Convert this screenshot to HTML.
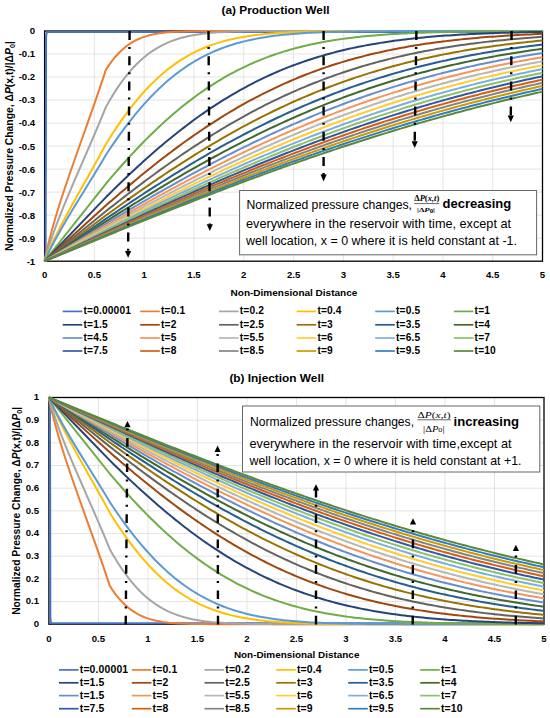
<!DOCTYPE html>
<html><head><meta charset="utf-8"><style>
html,body{margin:0;padding:0;background:#fff;}
svg{display:block;}
text{font-family:"Liberation Sans",sans-serif;fill:#000;}
</style></head><body>
<svg width="550" height="718" viewBox="0 0 550 718">
<rect width="550" height="718" fill="#fff"/>
<text x="221.50" y="13.60" font-size="11.20" font-weight="bold" text-anchor="start" textLength="108.0" lengthAdjust="spacingAndGlyphs">(a) Production Well</text>
<path d="M94.39 31.00V261.20M144.18 31.00V261.20M193.97 31.00V261.20M243.76 31.00V261.20M293.55 31.00V261.20M343.34 31.00V261.20M393.13 31.00V261.20M442.92 31.00V261.20M492.71 31.00V261.20M44.60 54.02H542.50M44.60 77.04H542.50M44.60 100.06H542.50M44.60 123.08H542.50M44.60 146.10H542.50M44.60 169.12H542.50M44.60 192.14H542.50M44.60 215.16H542.50M44.60 238.18H542.50" stroke="#DDDDDD" stroke-width="0.8" fill="none"/>
<rect x="44.60" y="31.00" width="497.90" height="230.20" fill="none" stroke="#000" stroke-width="1.3"/>
<path d="M44.60 261.20 L45.60 255.44 L45.89 146.10 L46.04 37.91 L46.39 33.76 L47.09 32.27 L48.18 31.92 L542.50 31.92" stroke="#4472C4" stroke-width="2.0" fill="none" stroke-linejoin="round"/>
<path d="M44.60 261.20 C55.05 205.50 85.43 133.68 105.84 69.92 L108.96 65.16 L112.08 60.86 L115.20 56.99 L118.32 53.53 L121.44 50.44 L124.56 47.71 L127.67 45.30 L130.79 43.18 L133.91 41.34 L137.03 39.73 L140.15 38.34 L143.27 37.15 L146.39 36.13 L149.51 35.26 L152.63 34.52 L155.75 33.89 L158.86 33.37 L161.98 32.93 L165.10 32.57 L168.22 32.27 L171.34 32.02 L174.46 31.82 L177.58 31.65 L180.70 31.52 L183.82 31.41 L186.94 31.32 L190.05 31.25 L193.17 31.20 L196.29 31.15 L199.41 31.12 L202.53 31.09 L205.65 31.07 L208.77 31.05 L211.89 31.04 L215.01 31.03 L218.13 31.02 L221.24 31.02 L224.36 31.01 L227.48 31.01 L230.60 31.01 L233.72 31.00 L236.84 31.00 L239.96 31.00 L243.08 31.00 L246.20 31.00 L249.32 31.00 L252.43 31.00 L255.55 31.00 L258.67 31.00 L261.79 31.00 L264.91 31.00 L268.03 31.00 L271.15 31.00 L274.27 31.00 L277.39 31.00 L280.51 31.00 L283.62 31.00 L286.74 31.00 L289.86 31.00 L292.98 31.00 L296.10 31.00 L299.22 31.00 L302.34 31.00 L305.46 31.00 L308.58 31.00 L311.69 31.00 L314.81 31.00 L317.93 31.00 L321.05 31.00 L324.17 31.00 L327.29 31.00 L330.41 31.00 L333.53 31.00 L336.65 31.00 L339.77 31.00 L342.88 31.00 L346.00 31.00 L349.12 31.00 L352.24 31.00 L355.36 31.00 L358.48 31.00 L361.60 31.00 L364.72 31.00 L367.84 31.00 L370.96 31.00 L374.07 31.00 L377.19 31.00 L380.31 31.00 L383.43 31.00 L386.55 31.00 L389.67 31.00 L392.79 31.00 L395.91 31.00 L399.03 31.00 L402.15 31.00 L405.26 31.00 L408.38 31.00 L411.50 31.00 L414.62 31.00 L417.74 31.00 L420.86 31.00 L423.98 31.00 L427.10 31.00 L430.22 31.00 L433.34 31.00 L436.45 31.00 L439.57 31.00 L442.69 31.00 L445.81 31.00 L448.93 31.00 L452.05 31.00 L455.17 31.00 L458.29 31.00 L461.41 31.00 L464.53 31.00 L467.64 31.00 L470.76 31.00 L473.88 31.00 L477.00 31.00 L480.12 31.00 L483.24 31.00 L486.36 31.00 L489.48 31.00 L492.60 31.00 L495.72 31.00 L498.83 31.00 L501.95 31.00 L505.07 31.00 L508.19 31.00 L511.31 31.00 L514.43 31.00 L517.55 31.00 L520.67 31.00 L523.79 31.00 L526.91 31.00 L530.02 31.00 L533.14 31.00 L536.26 31.00 L539.38 31.00 L542.50 31.00" stroke="#ED7D31" stroke-width="2.0" fill="none" stroke-linejoin="round"/>
<path d="M44.60 261.20 C56.36 215.93 85.43 158.51 105.84 107.16 L108.96 101.63 L112.08 96.37 L115.20 91.38 L118.32 86.66 L121.44 82.21 L124.56 78.02 L127.67 74.08 L130.79 70.39 L133.91 66.95 L137.03 63.74 L140.15 60.75 L143.27 57.98 L146.39 55.41 L149.51 53.05 L152.63 50.87 L155.75 48.86 L158.86 47.03 L161.98 45.35 L165.10 43.82 L168.22 42.43 L171.34 41.17 L174.46 40.03 L177.58 39.00 L180.70 38.07 L183.82 37.23 L186.94 36.48 L190.05 35.81 L193.17 35.22 L196.29 34.69 L199.41 34.22 L202.53 33.80 L205.65 33.43 L208.77 33.10 L211.89 32.82 L215.01 32.57 L218.13 32.35 L221.24 32.16 L224.36 31.99 L227.48 31.85 L230.60 31.72 L233.72 31.62 L236.84 31.52 L239.96 31.44 L243.08 31.37 L246.20 31.32 L249.32 31.27 L252.43 31.22 L255.55 31.19 L258.67 31.16 L261.79 31.13 L264.91 31.11 L268.03 31.09 L271.15 31.07 L274.27 31.06 L277.39 31.05 L280.51 31.04 L283.62 31.03 L286.74 31.03 L289.86 31.02 L292.98 31.02 L296.10 31.01 L299.22 31.01 L302.34 31.01 L305.46 31.01 L308.58 31.01 L311.69 31.01 L314.81 31.00 L317.93 31.00 L321.05 31.00 L324.17 31.00 L327.29 31.00 L330.41 31.00 L333.53 31.00 L336.65 31.00 L339.77 31.00 L342.88 31.00 L346.00 31.00 L349.12 31.00 L352.24 31.00 L355.36 31.00 L358.48 31.00 L361.60 31.00 L364.72 31.00 L367.84 31.00 L370.96 31.00 L374.07 31.00 L377.19 31.00 L380.31 31.00 L383.43 31.00 L386.55 31.00 L389.67 31.00 L392.79 31.00 L395.91 31.00 L399.03 31.00 L402.15 31.00 L405.26 31.00 L408.38 31.00 L411.50 31.00 L414.62 31.00 L417.74 31.00 L420.86 31.00 L423.98 31.00 L427.10 31.00 L430.22 31.00 L433.34 31.00 L436.45 31.00 L439.57 31.00 L442.69 31.00 L445.81 31.00 L448.93 31.00 L452.05 31.00 L455.17 31.00 L458.29 31.00 L461.41 31.00 L464.53 31.00 L467.64 31.00 L470.76 31.00 L473.88 31.00 L477.00 31.00 L480.12 31.00 L483.24 31.00 L486.36 31.00 L489.48 31.00 L492.60 31.00 L495.72 31.00 L498.83 31.00 L501.95 31.00 L505.07 31.00 L508.19 31.00 L511.31 31.00 L514.43 31.00 L517.55 31.00 L520.67 31.00 L523.79 31.00 L526.91 31.00 L530.02 31.00 L533.14 31.00 L536.26 31.00 L539.38 31.00 L542.50 31.00" stroke="#A5A5A5" stroke-width="2.0" fill="none" stroke-linejoin="round"/>
<path d="M44.60 261.20 C57.65 226.29 85.43 183.19 105.84 144.19 L108.96 139.18 L112.08 134.28 L115.20 129.52 L118.32 124.89 L121.44 120.39 L124.56 116.02 L127.67 111.79 L130.79 107.70 L133.91 103.74 L137.03 99.92 L140.15 96.23 L143.27 92.68 L146.39 89.27 L149.51 85.98 L152.63 82.84 L155.75 79.82 L158.86 76.93 L161.98 74.17 L165.10 71.53 L168.22 69.02 L171.34 66.62 L174.46 64.34 L177.58 62.18 L180.70 60.12 L183.82 58.17 L186.94 56.33 L190.05 54.58 L193.17 52.94 L196.29 51.38 L199.41 49.92 L202.53 48.54 L205.65 47.25 L208.77 46.03 L211.89 44.89 L215.01 43.83 L218.13 42.83 L221.24 41.90 L224.36 41.03 L227.48 40.22 L230.60 39.46 L233.72 38.76 L236.84 38.11 L239.96 37.51 L243.08 36.95 L246.20 36.43 L249.32 35.96 L252.43 35.52 L255.55 35.11 L258.67 34.74 L261.79 34.39 L264.91 34.08 L268.03 33.79 L271.15 33.53 L274.27 33.28 L277.39 33.06 L280.51 32.86 L283.62 32.68 L286.74 32.51 L289.86 32.36 L292.98 32.22 L296.10 32.09 L299.22 31.98 L302.34 31.88 L305.46 31.78 L308.58 31.70 L311.69 31.62 L314.81 31.56 L317.93 31.49 L321.05 31.44 L324.17 31.39 L327.29 31.35 L330.41 31.31 L333.53 31.27 L336.65 31.24 L339.77 31.21 L342.88 31.19 L346.00 31.16 L349.12 31.14 L352.24 31.13 L355.36 31.11 L358.48 31.10 L361.60 31.09 L364.72 31.07 L367.84 31.07 L370.96 31.06 L374.07 31.05 L377.19 31.04 L380.31 31.04 L383.43 31.03 L386.55 31.03 L389.67 31.02 L392.79 31.02 L395.91 31.02 L399.03 31.02 L402.15 31.01 L405.26 31.01 L408.38 31.01 L411.50 31.01 L414.62 31.01 L417.74 31.01 L420.86 31.01 L423.98 31.00 L427.10 31.00 L430.22 31.00 L433.34 31.00 L436.45 31.00 L439.57 31.00 L442.69 31.00 L445.81 31.00 L448.93 31.00 L452.05 31.00 L455.17 31.00 L458.29 31.00 L461.41 31.00 L464.53 31.00 L467.64 31.00 L470.76 31.00 L473.88 31.00 L477.00 31.00 L480.12 31.00 L483.24 31.00 L486.36 31.00 L489.48 31.00 L492.60 31.00 L495.72 31.00 L498.83 31.00 L501.95 31.00 L505.07 31.00 L508.19 31.00 L511.31 31.00 L514.43 31.00 L517.55 31.00 L520.67 31.00 L523.79 31.00 L526.91 31.00 L530.02 31.00 L533.14 31.00 L536.26 31.00 L539.38 31.00 L542.50 31.00" stroke="#FFC000" stroke-width="2.0" fill="none" stroke-linejoin="round"/>
<path d="M44.60 261.20 C58.03 229.31 85.43 190.38 105.84 154.98 L108.96 150.26 L112.08 145.64 L115.20 141.12 L118.32 136.69 L121.44 132.37 L124.56 128.15 L127.67 124.03 L130.79 120.02 L133.91 116.12 L137.03 112.33 L140.15 108.64 L143.27 105.07 L146.39 101.60 L149.51 98.24 L152.63 95.00 L155.75 91.86 L158.86 88.82 L161.98 85.90 L165.10 83.08 L168.22 80.37 L171.34 77.76 L174.46 75.25 L177.58 72.84 L180.70 70.53 L183.82 68.32 L186.94 66.20 L190.05 64.17 L193.17 62.24 L196.29 60.39 L199.41 58.63 L202.53 56.95 L205.65 55.36 L208.77 53.84 L211.89 52.40 L215.01 51.04 L218.13 49.74 L221.24 48.51 L224.36 47.35 L227.48 46.26 L230.60 45.22 L233.72 44.25 L236.84 43.33 L239.96 42.46 L243.08 41.65 L246.20 40.88 L249.32 40.16 L252.43 39.49 L255.55 38.86 L258.67 38.27 L261.79 37.72 L264.91 37.20 L268.03 36.72 L271.15 36.27 L274.27 35.86 L277.39 35.47 L280.51 35.11 L283.62 34.77 L286.74 34.46 L289.86 34.17 L292.98 33.91 L296.10 33.66 L299.22 33.43 L302.34 33.22 L305.46 33.03 L308.58 32.85 L311.69 32.68 L314.81 32.53 L317.93 32.39 L321.05 32.27 L324.17 32.15 L327.29 32.04 L330.41 31.94 L333.53 31.86 L336.65 31.77 L339.77 31.70 L342.88 31.63 L346.00 31.57 L349.12 31.51 L352.24 31.46 L355.36 31.42 L358.48 31.37 L361.60 31.34 L364.72 31.30 L367.84 31.27 L370.96 31.24 L374.07 31.22 L377.19 31.19 L380.31 31.17 L383.43 31.15 L386.55 31.14 L389.67 31.12 L392.79 31.11 L395.91 31.10 L399.03 31.09 L402.15 31.08 L405.26 31.07 L408.38 31.06 L411.50 31.05 L414.62 31.05 L417.74 31.04 L420.86 31.04 L423.98 31.03 L427.10 31.03 L430.22 31.02 L433.34 31.02 L436.45 31.02 L439.57 31.02 L442.69 31.01 L445.81 31.01 L448.93 31.01 L452.05 31.01 L455.17 31.01 L458.29 31.01 L461.41 31.01 L464.53 31.01 L467.64 31.00 L470.76 31.00 L473.88 31.00 L477.00 31.00 L480.12 31.00 L483.24 31.00 L486.36 31.00 L489.48 31.00 L492.60 31.00 L495.72 31.00 L498.83 31.00 L501.95 31.00 L505.07 31.00 L508.19 31.00 L511.31 31.00 L514.43 31.00 L517.55 31.00 L520.67 31.00 L523.79 31.00 L526.91 31.00 L530.02 31.00 L533.14 31.00 L536.26 31.00 L539.38 31.00 L542.50 31.00" stroke="#5B9BD5" stroke-width="2.0" fill="none" stroke-linejoin="round"/>
<path d="M44.60 261.20 C61.75 239.52 85.43 209.58 105.84 183.77 L108.96 180.09 L112.08 176.45 L115.20 172.84 L118.32 169.27 L121.44 165.74 L124.56 162.26 L127.67 158.82 L130.79 155.42 L133.91 152.07 L137.03 148.77 L140.15 145.51 L143.27 142.31 L146.39 139.15 L149.51 136.04 L152.63 132.99 L155.75 129.98 L158.86 127.03 L161.98 124.13 L165.10 121.28 L168.22 118.49 L171.34 115.74 L174.46 113.06 L177.58 110.43 L180.70 107.85 L183.82 105.33 L186.94 102.86 L190.05 100.44 L193.17 98.09 L196.29 95.78 L199.41 93.53 L202.53 91.33 L205.65 89.19 L208.77 87.10 L211.89 85.07 L215.01 83.09 L218.13 81.16 L221.24 79.28 L224.36 77.45 L227.48 75.68 L230.60 73.95 L233.72 72.27 L236.84 70.65 L239.96 69.07 L243.08 67.54 L246.20 66.06 L249.32 64.62 L252.43 63.23 L255.55 61.88 L258.67 60.58 L261.79 59.32 L264.91 58.10 L268.03 56.92 L271.15 55.79 L274.27 54.69 L277.39 53.64 L280.51 52.62 L283.62 51.64 L286.74 50.69 L289.86 49.78 L292.98 48.90 L296.10 48.06 L299.22 47.25 L302.34 46.48 L305.46 45.73 L308.58 45.01 L311.69 44.32 L314.81 43.66 L317.93 43.03 L321.05 42.43 L324.17 41.85 L327.29 41.29 L330.41 40.76 L333.53 40.25 L336.65 39.77 L339.77 39.31 L342.88 38.87 L346.00 38.44 L349.12 38.04 L352.24 37.66 L355.36 37.29 L358.48 36.95 L361.60 36.61 L364.72 36.30 L367.84 36.00 L370.96 35.71 L374.07 35.44 L377.19 35.19 L380.31 34.94 L383.43 34.71 L386.55 34.49 L389.67 34.29 L392.79 34.09 L395.91 33.90 L399.03 33.73 L402.15 33.56 L405.26 33.40 L408.38 33.25 L411.50 33.11 L414.62 32.98 L417.74 32.85 L420.86 32.74 L423.98 32.63 L427.10 32.52 L430.22 32.42 L433.34 32.33 L436.45 32.24 L439.57 32.16 L442.69 32.08 L445.81 32.01 L448.93 31.94 L452.05 31.88 L455.17 31.82 L458.29 31.76 L461.41 31.71 L464.53 31.66 L467.64 31.61 L470.76 31.57 L473.88 31.53 L477.00 31.49 L480.12 31.46 L483.24 31.42 L486.36 31.39 L489.48 31.36 L492.60 31.34 L495.72 31.31 L498.83 31.29 L501.95 31.27 L505.07 31.25 L508.19 31.23 L511.31 31.21 L514.43 31.20 L517.55 31.18 L520.67 31.17 L523.79 31.15 L526.91 31.14 L530.02 31.13 L533.14 31.12 L536.26 31.11 L539.38 31.10 L542.50 31.09" stroke="#70AD47" stroke-width="2.0" fill="none" stroke-linejoin="round"/>
<path d="M44.60 261.20 C61.75 243.32 85.43 218.62 105.84 197.33 L108.96 194.22 L112.08 191.13 L115.20 188.07 L118.32 185.02 L121.44 182.00 L124.56 179.01 L127.67 176.04 L130.79 173.09 L133.91 170.17 L137.03 167.28 L140.15 164.42 L143.27 161.59 L146.39 158.78 L149.51 156.01 L152.63 153.26 L155.75 150.55 L158.86 147.86 L161.98 145.21 L165.10 142.59 L168.22 140.01 L171.34 137.46 L174.46 134.94 L177.58 132.45 L180.70 130.00 L183.82 127.59 L186.94 125.21 L190.05 122.86 L193.17 120.55 L196.29 118.28 L199.41 116.04 L202.53 113.84 L205.65 111.67 L208.77 109.54 L211.89 107.45 L215.01 105.39 L218.13 103.37 L221.24 101.39 L224.36 99.44 L227.48 97.53 L230.60 95.65 L233.72 93.81 L236.84 92.01 L239.96 90.24 L243.08 88.51 L246.20 86.82 L249.32 85.16 L252.43 83.53 L255.55 81.94 L258.67 80.39 L261.79 78.87 L264.91 77.38 L268.03 75.93 L271.15 74.51 L274.27 73.13 L277.39 71.77 L280.51 70.45 L283.62 69.17 L286.74 67.91 L289.86 66.69 L292.98 65.49 L296.10 64.33 L299.22 63.20 L302.34 62.10 L305.46 61.02 L308.58 59.98 L311.69 58.97 L314.81 57.98 L317.93 57.02 L321.05 56.09 L324.17 55.18 L327.29 54.30 L330.41 53.45 L333.53 52.62 L336.65 51.81 L339.77 51.03 L342.88 50.28 L346.00 49.54 L349.12 48.83 L352.24 48.14 L355.36 47.48 L358.48 46.83 L361.60 46.21 L364.72 45.61 L367.84 45.02 L370.96 44.46 L374.07 43.91 L377.19 43.39 L380.31 42.88 L383.43 42.39 L386.55 41.91 L389.67 41.46 L392.79 41.02 L395.91 40.59 L399.03 40.18 L402.15 39.79 L405.26 39.41 L408.38 39.04 L411.50 38.69 L414.62 38.35 L417.74 38.02 L420.86 37.71 L423.98 37.41 L427.10 37.12 L430.22 36.84 L433.34 36.57 L436.45 36.32 L439.57 36.07 L442.69 35.83 L445.81 35.61 L448.93 35.39 L452.05 35.18 L455.17 34.98 L458.29 34.79 L461.41 34.61 L464.53 34.43 L467.64 34.26 L470.76 34.10 L473.88 33.95 L477.00 33.80 L480.12 33.66 L483.24 33.53 L486.36 33.40 L489.48 33.28 L492.60 33.16 L495.72 33.05 L498.83 32.94 L501.95 32.84 L505.07 32.75 L508.19 32.66 L511.31 32.57 L514.43 32.48 L517.55 32.41 L520.67 32.33 L523.79 32.26 L526.91 32.19 L530.02 32.12 L533.14 32.06 L536.26 32.00 L539.38 31.95 L542.50 31.90" stroke="#264478" stroke-width="2.0" fill="none" stroke-linejoin="round"/>
<path d="M44.60 261.20 C61.75 245.63 85.43 224.13 105.84 205.60 L108.96 202.86 L112.08 200.14 L115.20 197.43 L118.32 194.74 L121.44 192.06 L124.56 189.40 L127.67 186.75 L130.79 184.12 L133.91 181.51 L137.03 178.92 L140.15 176.35 L143.27 173.79 L146.39 171.26 L149.51 168.74 L152.63 166.25 L155.75 163.78 L158.86 161.33 L161.98 158.90 L165.10 156.49 L168.22 154.11 L171.34 151.75 L174.46 149.41 L177.58 147.10 L180.70 144.81 L183.82 142.54 L186.94 140.30 L190.05 138.09 L193.17 135.89 L196.29 133.73 L199.41 131.59 L202.53 129.48 L205.65 127.39 L208.77 125.33 L211.89 123.29 L215.01 121.29 L218.13 119.30 L221.24 117.35 L224.36 115.42 L227.48 113.52 L230.60 111.65 L233.72 109.80 L236.84 107.98 L239.96 106.19 L243.08 104.43 L246.20 102.69 L249.32 100.98 L252.43 99.30 L255.55 97.64 L258.67 96.02 L261.79 94.41 L264.91 92.84 L268.03 91.29 L271.15 89.78 L274.27 88.28 L277.39 86.82 L280.51 85.38 L283.62 83.96 L286.74 82.58 L289.86 81.22 L292.98 79.88 L296.10 78.57 L299.22 77.29 L302.34 76.03 L305.46 74.80 L308.58 73.59 L311.69 72.41 L314.81 71.25 L317.93 70.12 L321.05 69.01 L324.17 67.92 L327.29 66.86 L330.41 65.82 L333.53 64.81 L336.65 63.81 L339.77 62.84 L342.88 61.89 L346.00 60.97 L349.12 60.06 L352.24 59.18 L355.36 58.32 L358.48 57.48 L361.60 56.66 L364.72 55.86 L367.84 55.08 L370.96 54.32 L374.07 53.57 L377.19 52.85 L380.31 52.15 L383.43 51.46 L386.55 50.79 L389.67 50.14 L392.79 49.51 L395.91 48.90 L399.03 48.30 L402.15 47.72 L405.26 47.15 L408.38 46.60 L411.50 46.06 L414.62 45.54 L417.74 45.04 L420.86 44.55 L423.98 44.07 L427.10 43.61 L430.22 43.16 L433.34 42.73 L436.45 42.31 L439.57 41.90 L442.69 41.50 L445.81 41.12 L448.93 40.75 L452.05 40.39 L455.17 40.04 L458.29 39.70 L461.41 39.37 L464.53 39.05 L467.64 38.75 L470.76 38.45 L473.88 38.17 L477.00 37.89 L480.12 37.62 L483.24 37.36 L486.36 37.11 L489.48 36.87 L492.60 36.64 L495.72 36.41 L498.83 36.19 L501.95 35.98 L505.07 35.78 L508.19 35.59 L511.31 35.40 L514.43 35.22 L517.55 35.04 L520.67 34.87 L523.79 34.71 L526.91 34.56 L530.02 34.41 L533.14 34.26 L536.26 34.12 L539.38 33.99 L542.50 33.86" stroke="#9E480E" stroke-width="2.0" fill="none" stroke-linejoin="round"/>
<path d="M44.60 261.20 C61.75 247.23 85.43 227.94 105.84 211.31 L108.96 208.84 L112.08 206.38 L115.20 203.93 L118.32 201.48 L121.44 199.06 L124.56 196.64 L127.67 194.23 L130.79 191.84 L133.91 189.46 L137.03 187.09 L140.15 184.74 L143.27 182.40 L146.39 180.07 L149.51 177.76 L152.63 175.47 L155.75 173.19 L158.86 170.92 L161.98 168.68 L165.10 166.45 L168.22 164.23 L171.34 162.04 L174.46 159.86 L177.58 157.70 L180.70 155.55 L183.82 153.43 L186.94 151.32 L190.05 149.23 L193.17 147.16 L196.29 145.11 L199.41 143.08 L202.53 141.07 L205.65 139.08 L208.77 137.11 L211.89 135.16 L215.01 133.23 L218.13 131.32 L221.24 129.43 L224.36 127.57 L227.48 125.72 L230.60 123.89 L233.72 122.09 L236.84 120.31 L239.96 118.54 L243.08 116.80 L246.20 115.09 L249.32 113.39 L252.43 111.71 L255.55 110.06 L258.67 108.43 L261.79 106.82 L264.91 105.23 L268.03 103.66 L271.15 102.12 L274.27 100.60 L277.39 99.10 L280.51 97.62 L283.62 96.16 L286.74 94.73 L289.86 93.31 L292.98 91.92 L296.10 90.55 L299.22 89.20 L302.34 87.88 L305.46 86.57 L308.58 85.28 L311.69 84.02 L314.81 82.78 L317.93 81.56 L321.05 80.36 L324.17 79.18 L327.29 78.02 L330.41 76.88 L333.53 75.76 L336.65 74.66 L339.77 73.58 L342.88 72.52 L346.00 71.48 L349.12 70.46 L352.24 69.46 L355.36 68.48 L358.48 67.52 L361.60 66.58 L364.72 65.65 L367.84 64.75 L370.96 63.86 L374.07 62.99 L377.19 62.14 L380.31 61.30 L383.43 60.49 L386.55 59.69 L389.67 58.90 L392.79 58.14 L395.91 57.39 L399.03 56.65 L402.15 55.94 L405.26 55.24 L408.38 54.55 L411.50 53.88 L414.62 53.23 L417.74 52.59 L420.86 51.96 L423.98 51.35 L427.10 50.76 L430.22 50.18 L433.34 49.61 L436.45 49.06 L439.57 48.52 L442.69 47.99 L445.81 47.48 L448.93 46.97 L452.05 46.49 L455.17 46.01 L458.29 45.55 L461.41 45.09 L464.53 44.65 L467.64 44.22 L470.76 43.81 L473.88 43.40 L477.00 43.00 L480.12 42.62 L483.24 42.24 L486.36 41.88 L489.48 41.53 L492.60 41.18 L495.72 40.85 L498.83 40.52 L501.95 40.20 L505.07 39.90 L508.19 39.60 L511.31 39.31 L514.43 39.02 L517.55 38.75 L520.67 38.49 L523.79 38.23 L526.91 37.98 L530.02 37.73 L533.14 37.50 L536.26 37.27 L539.38 37.05 L542.50 36.83" stroke="#636363" stroke-width="2.0" fill="none" stroke-linejoin="round"/>
<path d="M44.60 261.20 C61.75 248.42 85.43 230.78 105.84 215.56 L108.96 213.29 L112.08 211.03 L115.20 208.77 L118.32 206.52 L121.44 204.28 L124.56 202.05 L127.67 199.83 L130.79 197.62 L133.91 195.42 L137.03 193.23 L140.15 191.05 L143.27 188.88 L146.39 186.72 L149.51 184.57 L152.63 182.44 L155.75 180.32 L158.86 178.20 L161.98 176.11 L165.10 174.02 L168.22 171.95 L171.34 169.89 L174.46 167.84 L177.58 165.81 L180.70 163.80 L183.82 161.79 L186.94 159.80 L190.05 157.83 L193.17 155.87 L196.29 153.93 L199.41 152.00 L202.53 150.09 L205.65 148.19 L208.77 146.31 L211.89 144.45 L215.01 142.60 L218.13 140.77 L221.24 138.95 L224.36 137.15 L227.48 135.37 L230.60 133.61 L233.72 131.86 L236.84 130.13 L239.96 128.42 L243.08 126.72 L246.20 125.04 L249.32 123.38 L252.43 121.74 L255.55 120.12 L258.67 118.51 L261.79 116.92 L264.91 115.35 L268.03 113.80 L271.15 112.26 L274.27 110.74 L277.39 109.25 L280.51 107.77 L283.62 106.30 L286.74 104.86 L289.86 103.43 L292.98 102.03 L296.10 100.64 L299.22 99.27 L302.34 97.91 L305.46 96.58 L308.58 95.26 L311.69 93.96 L314.81 92.68 L317.93 91.42 L321.05 90.17 L324.17 88.95 L327.29 87.74 L330.41 86.55 L333.53 85.38 L336.65 84.22 L339.77 83.08 L342.88 81.96 L346.00 80.86 L349.12 79.77 L352.24 78.70 L355.36 77.65 L358.48 76.62 L361.60 75.60 L364.72 74.60 L367.84 73.61 L370.96 72.65 L374.07 71.69 L377.19 70.76 L380.31 69.84 L383.43 68.94 L386.55 68.05 L389.67 67.18 L392.79 66.32 L395.91 65.48 L399.03 64.66 L402.15 63.85 L405.26 63.05 L408.38 62.27 L411.50 61.51 L414.62 60.76 L417.74 60.02 L420.86 59.30 L423.98 58.59 L427.10 57.90 L430.22 57.22 L433.34 56.55 L436.45 55.90 L439.57 55.26 L442.69 54.63 L445.81 54.02 L448.93 53.42 L452.05 52.83 L455.17 52.26 L458.29 51.69 L461.41 51.14 L464.53 50.60 L467.64 50.07 L470.76 49.56 L473.88 49.05 L477.00 48.56 L480.12 48.08 L483.24 47.60 L486.36 47.14 L489.48 46.69 L492.60 46.25 L495.72 45.82 L498.83 45.40 L501.95 44.99 L505.07 44.59 L508.19 44.20 L511.31 43.82 L514.43 43.45 L517.55 43.09 L520.67 42.73 L523.79 42.39 L526.91 42.05 L530.02 41.72 L533.14 41.40 L536.26 41.09 L539.38 40.79 L542.50 40.49" stroke="#997300" stroke-width="2.0" fill="none" stroke-linejoin="round"/>
<path d="M44.60 261.20 C61.75 249.35 85.43 232.99 105.84 218.89 L108.96 216.77 L112.08 214.67 L115.20 212.57 L118.32 210.47 L121.44 208.38 L124.56 206.30 L127.67 204.23 L130.79 202.17 L133.91 200.11 L137.03 198.06 L140.15 196.02 L143.27 193.99 L146.39 191.96 L149.51 189.95 L152.63 187.95 L155.75 185.95 L158.86 183.97 L161.98 182.00 L165.10 180.03 L168.22 178.08 L171.34 176.14 L174.46 174.20 L177.58 172.28 L180.70 170.38 L183.82 168.48 L186.94 166.59 L190.05 164.72 L193.17 162.86 L196.29 161.01 L199.41 159.18 L202.53 157.35 L205.65 155.54 L208.77 153.74 L211.89 151.96 L215.01 150.19 L218.13 148.43 L221.24 146.69 L224.36 144.96 L227.48 143.24 L230.60 141.54 L233.72 139.85 L236.84 138.18 L239.96 136.52 L243.08 134.88 L246.20 133.25 L249.32 131.63 L252.43 130.03 L255.55 128.45 L258.67 126.88 L261.79 125.32 L264.91 123.78 L268.03 122.25 L271.15 120.74 L274.27 119.25 L277.39 117.77 L280.51 116.31 L283.62 114.86 L286.74 113.42 L289.86 112.01 L292.98 110.61 L296.10 109.22 L299.22 107.85 L302.34 106.49 L305.46 105.15 L308.58 103.83 L311.69 102.52 L314.81 101.23 L317.93 99.95 L321.05 98.69 L324.17 97.44 L327.29 96.21 L330.41 95.00 L333.53 93.80 L336.65 92.61 L339.77 91.44 L342.88 90.29 L346.00 89.15 L349.12 88.03 L352.24 86.92 L355.36 85.83 L358.48 84.75 L361.60 83.69 L364.72 82.65 L367.84 81.61 L370.96 80.60 L374.07 79.59 L377.19 78.61 L380.31 77.63 L383.43 76.68 L386.55 75.73 L389.67 74.80 L392.79 73.89 L395.91 72.99 L399.03 72.10 L402.15 71.23 L405.26 70.37 L408.38 69.52 L411.50 68.69 L414.62 67.87 L417.74 67.07 L420.86 66.28 L423.98 65.50 L427.10 64.74 L430.22 63.99 L433.34 63.25 L436.45 62.52 L439.57 61.81 L442.69 61.11 L445.81 60.42 L448.93 59.74 L452.05 59.08 L455.17 58.43 L458.29 57.79 L461.41 57.16 L464.53 56.54 L467.64 55.94 L470.76 55.35 L473.88 54.76 L477.00 54.19 L480.12 53.63 L483.24 53.08 L486.36 52.55 L489.48 52.02 L492.60 51.50 L495.72 50.99 L498.83 50.50 L501.95 50.01 L505.07 49.53 L508.19 49.07 L511.31 48.61 L514.43 48.16 L517.55 47.72 L520.67 47.29 L523.79 46.87 L526.91 46.46 L530.02 46.06 L533.14 45.66 L536.26 45.28 L539.38 44.90 L542.50 44.53" stroke="#255E91" stroke-width="2.0" fill="none" stroke-linejoin="round"/>
<path d="M44.60 261.20 C61.75 250.11 85.43 234.78 105.84 221.58 L108.96 219.59 L112.08 217.61 L115.20 215.64 L118.32 213.67 L121.44 211.71 L124.56 209.75 L127.67 207.80 L130.79 205.86 L133.91 203.92 L137.03 201.99 L140.15 200.06 L143.27 198.15 L146.39 196.24 L149.51 194.34 L152.63 192.44 L155.75 190.56 L158.86 188.68 L161.98 186.81 L165.10 184.95 L168.22 183.10 L171.34 181.26 L174.46 179.42 L177.58 177.60 L180.70 175.78 L183.82 173.98 L186.94 172.18 L190.05 170.40 L193.17 168.62 L196.29 166.86 L199.41 165.11 L202.53 163.36 L205.65 161.63 L208.77 159.91 L211.89 158.20 L215.01 156.50 L218.13 154.81 L221.24 153.13 L224.36 151.47 L227.48 149.81 L230.60 148.17 L233.72 146.54 L236.84 144.93 L239.96 143.32 L243.08 141.73 L246.20 140.15 L249.32 138.58 L252.43 137.02 L255.55 135.48 L258.67 133.95 L261.79 132.43 L264.91 130.93 L268.03 129.44 L271.15 127.96 L274.27 126.49 L277.39 125.04 L280.51 123.60 L283.62 122.18 L286.74 120.77 L289.86 119.37 L292.98 117.98 L296.10 116.61 L299.22 115.25 L302.34 113.91 L305.46 112.57 L308.58 111.26 L311.69 109.95 L314.81 108.66 L317.93 107.39 L321.05 106.12 L324.17 104.87 L327.29 103.64 L330.41 102.41 L333.53 101.21 L336.65 100.01 L339.77 98.83 L342.88 97.66 L346.00 96.51 L349.12 95.37 L352.24 94.24 L355.36 93.13 L358.48 92.03 L361.60 90.94 L364.72 89.87 L367.84 88.81 L370.96 87.76 L374.07 86.73 L377.19 85.71 L380.31 84.70 L383.43 83.71 L386.55 82.73 L389.67 81.76 L392.79 80.81 L395.91 79.87 L399.03 78.94 L402.15 78.03 L405.26 77.12 L408.38 76.23 L411.50 75.36 L414.62 74.49 L417.74 73.64 L420.86 72.80 L423.98 71.97 L427.10 71.16 L430.22 70.36 L433.34 69.57 L436.45 68.79 L439.57 68.02 L442.69 67.26 L445.81 66.52 L448.93 65.79 L452.05 65.07 L455.17 64.36 L458.29 63.66 L461.41 62.98 L464.53 62.30 L467.64 61.64 L470.76 60.99 L473.88 60.34 L477.00 59.71 L480.12 59.09 L483.24 58.48 L486.36 57.88 L489.48 57.29 L492.60 56.71 L495.72 56.14 L498.83 55.59 L501.95 55.04 L505.07 54.50 L508.19 53.97 L511.31 53.45 L514.43 52.94 L517.55 52.44 L520.67 51.94 L523.79 51.46 L526.91 50.99 L530.02 50.52 L533.14 50.07 L536.26 49.62 L539.38 49.18 L542.50 48.75" stroke="#43682B" stroke-width="2.0" fill="none" stroke-linejoin="round"/>
<path d="M44.60 261.20 C61.75 250.73 85.43 236.27 105.84 223.81 L108.96 221.93 L112.08 220.06 L115.20 218.19 L118.32 216.33 L121.44 214.47 L124.56 212.62 L127.67 210.77 L130.79 208.93 L133.91 207.10 L137.03 205.26 L140.15 203.44 L143.27 201.62 L146.39 199.81 L149.51 198.00 L152.63 196.20 L155.75 194.41 L158.86 192.62 L161.98 190.84 L165.10 189.07 L168.22 187.31 L171.34 185.55 L174.46 183.80 L177.58 182.06 L180.70 180.33 L183.82 178.61 L186.94 176.89 L190.05 175.18 L193.17 173.48 L196.29 171.79 L199.41 170.11 L202.53 168.44 L205.65 166.78 L208.77 165.12 L211.89 163.48 L215.01 161.84 L218.13 160.22 L221.24 158.60 L224.36 157.00 L227.48 155.40 L230.60 153.82 L233.72 152.25 L236.84 150.68 L239.96 149.13 L243.08 147.58 L246.20 146.05 L249.32 144.53 L252.43 143.02 L255.55 141.52 L258.67 140.03 L261.79 138.55 L264.91 137.09 L268.03 135.63 L271.15 134.19 L274.27 132.75 L277.39 131.33 L280.51 129.92 L283.62 128.52 L286.74 127.14 L289.86 125.76 L292.98 124.40 L296.10 123.05 L299.22 121.71 L302.34 120.38 L305.46 119.07 L308.58 117.76 L311.69 116.47 L314.81 115.19 L317.93 113.92 L321.05 112.67 L324.17 111.42 L327.29 110.19 L330.41 108.97 L333.53 107.76 L336.65 106.57 L339.77 105.39 L342.88 104.21 L346.00 103.06 L349.12 101.91 L352.24 100.77 L355.36 99.65 L358.48 98.54 L361.60 97.44 L364.72 96.36 L367.84 95.28 L370.96 94.22 L374.07 93.17 L377.19 92.13 L380.31 91.11 L383.43 90.09 L386.55 89.09 L389.67 88.10 L392.79 87.12 L395.91 86.16 L399.03 85.20 L402.15 84.26 L405.26 83.33 L408.38 82.41 L411.50 81.50 L414.62 80.61 L417.74 79.72 L420.86 78.85 L423.98 77.99 L427.10 77.14 L430.22 76.30 L433.34 75.47 L436.45 74.65 L439.57 73.85 L442.69 73.05 L445.81 72.27 L448.93 71.49 L452.05 70.73 L455.17 69.98 L458.29 69.24 L461.41 68.51 L464.53 67.79 L467.64 67.08 L470.76 66.38 L473.88 65.70 L477.00 65.02 L480.12 64.35 L483.24 63.69 L486.36 63.05 L489.48 62.41 L492.60 61.78 L495.72 61.16 L498.83 60.55 L501.95 59.96 L505.07 59.37 L508.19 58.79 L511.31 58.22 L514.43 57.65 L517.55 57.10 L520.67 56.56 L523.79 56.02 L526.91 55.50 L530.02 54.98 L533.14 54.48 L536.26 53.98 L539.38 53.49 L542.50 53.00" stroke="#698ED0" stroke-width="2.0" fill="none" stroke-linejoin="round"/>
<path d="M44.60 261.20 C61.75 251.26 85.43 237.54 105.84 225.70 L108.96 223.92 L112.08 222.14 L115.20 220.36 L118.32 218.59 L121.44 216.82 L124.56 215.06 L127.67 213.30 L130.79 211.55 L133.91 209.80 L137.03 208.05 L140.15 206.31 L143.27 204.58 L146.39 202.85 L149.51 201.12 L152.63 199.41 L155.75 197.69 L158.86 195.99 L161.98 194.29 L165.10 192.59 L168.22 190.90 L171.34 189.22 L174.46 187.55 L177.58 185.88 L180.70 184.22 L183.82 182.57 L186.94 180.92 L190.05 179.28 L193.17 177.65 L196.29 176.03 L199.41 174.41 L202.53 172.80 L205.65 171.20 L208.77 169.61 L211.89 168.03 L215.01 166.45 L218.13 164.88 L221.24 163.33 L224.36 161.78 L227.48 160.23 L230.60 158.70 L233.72 157.18 L236.84 155.66 L239.96 154.16 L243.08 152.66 L246.20 151.18 L249.32 149.70 L252.43 148.23 L255.55 146.77 L258.67 145.32 L261.79 143.88 L264.91 142.45 L268.03 141.04 L271.15 139.63 L274.27 138.23 L277.39 136.84 L280.51 135.46 L283.62 134.09 L286.74 132.73 L289.86 131.38 L292.98 130.04 L296.10 128.72 L299.22 127.40 L302.34 126.09 L305.46 124.80 L308.58 123.51 L311.69 122.24 L314.81 120.97 L317.93 119.72 L321.05 118.47 L324.17 117.24 L327.29 116.02 L330.41 114.81 L333.53 113.61 L336.65 112.42 L339.77 111.24 L342.88 110.08 L346.00 108.92 L349.12 107.78 L352.24 106.64 L355.36 105.52 L358.48 104.41 L361.60 103.30 L364.72 102.21 L367.84 101.13 L370.96 100.07 L374.07 99.01 L377.19 97.96 L380.31 96.92 L383.43 95.90 L386.55 94.89 L389.67 93.88 L392.79 92.89 L395.91 91.91 L399.03 90.94 L402.15 89.98 L405.26 89.03 L408.38 88.09 L411.50 87.16 L414.62 86.24 L417.74 85.34 L420.86 84.44 L423.98 83.55 L427.10 82.68 L430.22 81.81 L433.34 80.96 L436.45 80.12 L439.57 79.28 L442.69 78.46 L445.81 77.65 L448.93 76.84 L452.05 76.05 L455.17 75.27 L458.29 74.49 L461.41 73.73 L464.53 72.98 L467.64 72.24 L470.76 71.50 L473.88 70.78 L477.00 70.07 L480.12 69.36 L483.24 68.67 L486.36 67.98 L489.48 67.31 L492.60 66.64 L495.72 65.99 L498.83 65.34 L501.95 64.70 L505.07 64.07 L508.19 63.45 L511.31 62.84 L514.43 62.24 L517.55 61.64 L520.67 61.06 L523.79 60.48 L526.91 59.92 L530.02 59.36 L533.14 58.81 L536.26 58.27 L539.38 57.73 L542.50 57.21" stroke="#F1975A" stroke-width="2.0" fill="none" stroke-linejoin="round"/>
<path d="M44.60 261.20 C61.75 251.72 85.43 238.62 105.84 227.34 L108.96 225.63 L112.08 223.93 L115.20 222.23 L118.32 220.54 L121.44 218.85 L124.56 217.16 L127.67 215.48 L130.79 213.80 L133.91 212.13 L137.03 210.46 L140.15 208.79 L143.27 207.13 L146.39 205.48 L149.51 203.82 L152.63 202.18 L155.75 200.54 L158.86 198.90 L161.98 197.27 L165.10 195.64 L168.22 194.02 L171.34 192.41 L174.46 190.80 L177.58 189.20 L180.70 187.60 L183.82 186.01 L186.94 184.43 L190.05 182.85 L193.17 181.28 L196.29 179.71 L199.41 178.16 L202.53 176.61 L205.65 175.06 L208.77 173.53 L211.89 172.00 L215.01 170.47 L218.13 168.96 L221.24 167.45 L224.36 165.95 L227.48 164.46 L230.60 162.98 L233.72 161.50 L236.84 160.03 L239.96 158.57 L243.08 157.12 L246.20 155.68 L249.32 154.24 L252.43 152.81 L255.55 151.39 L258.67 149.98 L261.79 148.58 L264.91 147.19 L268.03 145.81 L271.15 144.43 L274.27 143.06 L277.39 141.71 L280.51 140.36 L283.62 139.02 L286.74 137.69 L289.86 136.37 L292.98 135.05 L296.10 133.75 L299.22 132.46 L302.34 131.17 L305.46 129.90 L308.58 128.64 L311.69 127.38 L314.81 126.13 L317.93 124.90 L321.05 123.67 L324.17 122.45 L327.29 121.25 L330.41 120.05 L333.53 118.86 L336.65 117.68 L339.77 116.51 L342.88 115.36 L346.00 114.21 L349.12 113.07 L352.24 111.94 L355.36 110.82 L358.48 109.71 L361.60 108.61 L364.72 107.52 L367.84 106.44 L370.96 105.37 L374.07 104.31 L377.19 103.26 L380.31 102.22 L383.43 101.19 L386.55 100.17 L389.67 99.16 L392.79 98.16 L395.91 97.17 L399.03 96.19 L402.15 95.22 L405.26 94.26 L408.38 93.31 L411.50 92.37 L414.62 91.44 L417.74 90.52 L420.86 89.61 L423.98 88.71 L427.10 87.82 L430.22 86.93 L433.34 86.06 L436.45 85.20 L439.57 84.34 L442.69 83.50 L445.81 82.67 L448.93 81.84 L452.05 81.03 L455.17 80.22 L458.29 79.42 L461.41 78.64 L464.53 77.86 L467.64 77.09 L470.76 76.33 L473.88 75.58 L477.00 74.84 L480.12 74.11 L483.24 73.39 L486.36 72.67 L489.48 71.97 L492.60 71.27 L495.72 70.59 L498.83 69.91 L501.95 69.24 L505.07 68.58 L508.19 67.93 L511.31 67.28 L514.43 66.65 L517.55 66.02 L520.67 65.41 L523.79 64.80 L526.91 64.19 L530.02 63.60 L533.14 63.02 L536.26 62.44 L539.38 61.87 L542.50 61.31" stroke="#B7B7B7" stroke-width="2.0" fill="none" stroke-linejoin="round"/>
<path d="M44.60 261.20 C61.75 252.12 85.43 239.57 105.84 228.76 L108.96 227.13 L112.08 225.50 L115.20 223.87 L118.32 222.25 L121.44 220.62 L124.56 219.01 L127.67 217.39 L130.79 215.78 L133.91 214.17 L137.03 212.57 L140.15 210.97 L143.27 209.37 L146.39 207.78 L149.51 206.19 L152.63 204.61 L155.75 203.03 L158.86 201.45 L161.98 199.88 L165.10 198.32 L168.22 196.76 L171.34 195.20 L174.46 193.65 L177.58 192.11 L180.70 190.57 L183.82 189.04 L186.94 187.51 L190.05 185.99 L193.17 184.47 L196.29 182.96 L199.41 181.46 L202.53 179.96 L205.65 178.46 L208.77 176.98 L211.89 175.50 L215.01 174.03 L218.13 172.56 L221.24 171.10 L224.36 169.65 L227.48 168.20 L230.60 166.76 L233.72 165.33 L236.84 163.90 L239.96 162.48 L243.08 161.07 L246.20 159.67 L249.32 158.27 L252.43 156.88 L255.55 155.50 L258.67 154.13 L261.79 152.76 L264.91 151.40 L268.03 150.05 L271.15 148.71 L274.27 147.38 L277.39 146.05 L280.51 144.73 L283.62 143.42 L286.74 142.12 L289.86 140.83 L292.98 139.54 L296.10 138.26 L299.22 136.99 L302.34 135.73 L305.46 134.48 L308.58 133.24 L311.69 132.00 L314.81 130.78 L317.93 129.56 L321.05 128.35 L324.17 127.15 L327.29 125.96 L330.41 124.78 L333.53 123.60 L336.65 122.44 L339.77 121.28 L342.88 120.13 L346.00 119.00 L349.12 117.87 L352.24 116.75 L355.36 115.63 L358.48 114.53 L361.60 113.44 L364.72 112.35 L367.84 111.28 L370.96 110.21 L374.07 109.16 L377.19 108.11 L380.31 107.07 L383.43 106.04 L386.55 105.02 L389.67 104.01 L392.79 103.01 L395.91 102.01 L399.03 101.03 L402.15 100.05 L405.26 99.09 L408.38 98.13 L411.50 97.18 L414.62 96.24 L417.74 95.31 L420.86 94.39 L423.98 93.48 L427.10 92.58 L430.22 91.69 L433.34 90.80 L436.45 89.93 L439.57 89.06 L442.69 88.20 L445.81 87.35 L448.93 86.51 L452.05 85.68 L455.17 84.86 L458.29 84.05 L461.41 83.24 L464.53 82.44 L467.64 81.66 L470.76 80.88 L473.88 80.11 L477.00 79.35 L480.12 78.59 L483.24 77.85 L486.36 77.11 L489.48 76.39 L492.60 75.67 L495.72 74.96 L498.83 74.26 L501.95 73.56 L505.07 72.88 L508.19 72.20 L511.31 71.53 L514.43 70.87 L517.55 70.22 L520.67 69.57 L523.79 68.94 L526.91 68.31 L530.02 67.69 L533.14 67.07 L536.26 66.47 L539.38 65.87 L542.50 65.28" stroke="#FFCD33" stroke-width="2.0" fill="none" stroke-linejoin="round"/>
<path d="M44.60 261.20 C61.75 252.47 85.43 240.41 105.84 230.02 L108.96 228.45 L112.08 226.88 L115.20 225.32 L118.32 223.75 L121.44 222.19 L124.56 220.63 L127.67 219.08 L130.79 217.53 L133.91 215.98 L137.03 214.43 L140.15 212.89 L143.27 211.35 L146.39 209.82 L149.51 208.29 L152.63 206.76 L155.75 205.24 L158.86 203.72 L161.98 202.20 L165.10 200.69 L168.22 199.19 L171.34 197.69 L174.46 196.19 L177.58 194.70 L180.70 193.21 L183.82 191.73 L186.94 190.25 L190.05 188.78 L193.17 187.31 L196.29 185.85 L199.41 184.39 L202.53 182.94 L205.65 181.49 L208.77 180.05 L211.89 178.62 L215.01 177.19 L218.13 175.77 L221.24 174.35 L224.36 172.94 L227.48 171.54 L230.60 170.14 L233.72 168.75 L236.84 167.36 L239.96 165.98 L243.08 164.61 L246.20 163.24 L249.32 161.88 L252.43 160.53 L255.55 159.18 L258.67 157.84 L261.79 156.51 L264.91 155.19 L268.03 153.87 L271.15 152.56 L274.27 151.25 L277.39 149.96 L280.51 148.67 L283.62 147.39 L286.74 146.11 L289.86 144.84 L292.98 143.58 L296.10 142.33 L299.22 141.09 L302.34 139.85 L305.46 138.62 L308.58 137.40 L311.69 136.19 L314.81 134.98 L317.93 133.78 L321.05 132.59 L324.17 131.41 L327.29 130.23 L330.41 129.07 L333.53 127.91 L336.65 126.76 L339.77 125.62 L342.88 124.48 L346.00 123.36 L349.12 122.24 L352.24 121.13 L355.36 120.03 L358.48 118.94 L361.60 117.85 L364.72 116.78 L367.84 115.71 L370.96 114.65 L374.07 113.60 L377.19 112.55 L380.31 111.52 L383.43 110.49 L386.55 109.47 L389.67 108.46 L392.79 107.46 L395.91 106.47 L399.03 105.49 L402.15 104.51 L405.26 103.54 L408.38 102.58 L411.50 101.63 L414.62 100.69 L417.74 99.76 L420.86 98.83 L423.98 97.91 L427.10 97.00 L430.22 96.10 L433.34 95.21 L436.45 94.33 L439.57 93.45 L442.69 92.59 L445.81 91.73 L448.93 90.88 L452.05 90.03 L455.17 89.20 L458.29 88.37 L461.41 87.56 L464.53 86.75 L467.64 85.95 L470.76 85.15 L473.88 84.37 L477.00 83.59 L480.12 82.82 L483.24 82.06 L486.36 81.31 L489.48 80.57 L492.60 79.83 L495.72 79.10 L498.83 78.38 L501.95 77.67 L505.07 76.96 L508.19 76.27 L511.31 75.58 L514.43 74.89 L517.55 74.22 L520.67 73.55 L523.79 72.90 L526.91 72.24 L530.02 71.60 L533.14 70.97 L536.26 70.34 L539.38 69.72 L542.50 69.10" stroke="#7CAFDD" stroke-width="2.0" fill="none" stroke-linejoin="round"/>
<path d="M44.60 261.20 C61.75 252.78 85.43 241.16 105.84 231.15 L108.96 229.63 L112.08 228.12 L115.20 226.61 L118.32 225.10 L121.44 223.59 L124.56 222.09 L127.67 220.58 L130.79 219.09 L133.91 217.59 L137.03 216.10 L140.15 214.61 L143.27 213.12 L146.39 211.64 L149.51 210.16 L152.63 208.68 L155.75 207.21 L158.86 205.74 L161.98 204.28 L165.10 202.82 L168.22 201.36 L171.34 199.91 L174.46 198.46 L177.58 197.01 L180.70 195.57 L183.82 194.14 L186.94 192.70 L190.05 191.28 L193.17 189.86 L196.29 188.44 L199.41 187.02 L202.53 185.62 L205.65 184.21 L208.77 182.82 L211.89 181.42 L215.01 180.04 L218.13 178.65 L221.24 177.28 L224.36 175.91 L227.48 174.54 L230.60 173.18 L233.72 171.82 L236.84 170.48 L239.96 169.13 L243.08 167.80 L246.20 166.46 L249.32 165.14 L252.43 163.82 L255.55 162.51 L258.67 161.20 L261.79 159.90 L264.91 158.61 L268.03 157.32 L271.15 156.04 L274.27 154.76 L277.39 153.49 L280.51 152.23 L283.62 150.98 L286.74 149.73 L289.86 148.49 L292.98 147.25 L296.10 146.03 L299.22 144.80 L302.34 143.59 L305.46 142.38 L308.58 141.18 L311.69 139.99 L314.81 138.81 L317.93 137.63 L321.05 136.46 L324.17 135.29 L327.29 134.14 L330.41 132.99 L333.53 131.84 L336.65 130.71 L339.77 129.58 L342.88 128.46 L346.00 127.35 L349.12 126.25 L352.24 125.15 L355.36 124.06 L358.48 122.98 L361.60 121.90 L364.72 120.84 L367.84 119.78 L370.96 118.73 L374.07 117.68 L377.19 116.65 L380.31 115.62 L383.43 114.60 L386.55 113.58 L389.67 112.58 L392.79 111.58 L395.91 110.59 L399.03 109.61 L402.15 108.64 L405.26 107.67 L408.38 106.71 L411.50 105.76 L414.62 104.82 L417.74 103.88 L420.86 102.95 L423.98 102.03 L427.10 101.12 L430.22 100.22 L433.34 99.32 L436.45 98.43 L439.57 97.55 L442.69 96.68 L445.81 95.82 L448.93 94.96 L452.05 94.11 L455.17 93.27 L458.29 92.43 L461.41 91.61 L464.53 90.79 L467.64 89.98 L470.76 89.18 L473.88 88.38 L477.00 87.59 L480.12 86.81 L483.24 86.04 L486.36 85.27 L489.48 84.52 L492.60 83.77 L495.72 83.02 L498.83 82.29 L501.95 81.56 L505.07 80.84 L508.19 80.13 L511.31 79.42 L514.43 78.73 L517.55 78.03 L520.67 77.35 L523.79 76.68 L526.91 76.01 L530.02 75.34 L533.14 74.69 L536.26 74.04 L539.38 73.40 L542.50 72.77" stroke="#8CC168" stroke-width="2.0" fill="none" stroke-linejoin="round"/>
<path d="M44.60 261.20 C61.75 253.07 85.43 241.84 105.84 232.16 L108.96 230.69 L112.08 229.23 L115.20 227.76 L118.32 226.31 L121.44 224.85 L124.56 223.39 L127.67 221.94 L130.79 220.49 L133.91 219.04 L137.03 217.60 L140.15 216.16 L143.27 214.72 L146.39 213.28 L149.51 211.85 L152.63 210.42 L155.75 208.99 L158.86 207.57 L161.98 206.15 L165.10 204.73 L168.22 203.32 L171.34 201.91 L174.46 200.50 L177.58 199.10 L180.70 197.71 L183.82 196.31 L186.94 194.92 L190.05 193.54 L193.17 192.15 L196.29 190.78 L199.41 189.41 L202.53 188.04 L205.65 186.67 L208.77 185.31 L211.89 183.96 L215.01 182.61 L218.13 181.27 L221.24 179.93 L224.36 178.59 L227.48 177.26 L230.60 175.94 L233.72 174.62 L236.84 173.30 L239.96 171.99 L243.08 170.69 L246.20 169.39 L249.32 168.10 L252.43 166.81 L255.55 165.53 L258.67 164.25 L261.79 162.98 L264.91 161.72 L268.03 160.46 L271.15 159.20 L274.27 157.96 L277.39 156.72 L280.51 155.48 L283.62 154.25 L286.74 153.03 L289.86 151.81 L292.98 150.60 L296.10 149.40 L299.22 148.20 L302.34 147.01 L305.46 145.83 L308.58 144.65 L311.69 143.47 L314.81 142.31 L317.93 141.15 L321.05 140.00 L324.17 138.85 L327.29 137.71 L330.41 136.58 L333.53 135.46 L336.65 134.34 L339.77 133.23 L342.88 132.12 L346.00 131.02 L349.12 129.93 L352.24 128.85 L355.36 127.77 L358.48 126.70 L361.60 125.64 L364.72 124.58 L367.84 123.53 L370.96 122.49 L374.07 121.46 L377.19 120.43 L380.31 119.41 L383.43 118.39 L386.55 117.39 L389.67 116.39 L392.79 115.40 L395.91 114.41 L399.03 113.44 L402.15 112.47 L405.26 111.50 L408.38 110.55 L411.50 109.60 L414.62 108.66 L417.74 107.72 L420.86 106.80 L423.98 105.88 L427.10 104.97 L430.22 104.06 L433.34 103.16 L436.45 102.27 L439.57 101.39 L442.69 100.51 L445.81 99.65 L448.93 98.79 L452.05 97.93 L455.17 97.09 L458.29 96.25 L461.41 95.41 L464.53 94.59 L467.64 93.77 L470.76 92.96 L473.88 92.16 L477.00 91.36 L480.12 90.57 L483.24 89.79 L486.36 89.02 L489.48 88.25 L492.60 87.49 L495.72 86.74 L498.83 85.99 L501.95 85.25 L505.07 84.52 L508.19 83.80 L511.31 83.08 L514.43 82.37 L517.55 81.66 L520.67 80.97 L523.79 80.28 L526.91 79.59 L530.02 78.92 L533.14 78.25 L536.26 77.59 L539.38 76.93 L542.50 76.28" stroke="#335AA1" stroke-width="2.0" fill="none" stroke-linejoin="round"/>
<path d="M44.60 261.20 C61.75 253.32 85.43 242.45 105.84 233.07 L108.96 231.65 L112.08 230.23 L115.20 228.82 L118.32 227.40 L121.44 225.99 L124.56 224.58 L127.67 223.17 L130.79 221.76 L133.91 220.36 L137.03 218.96 L140.15 217.56 L143.27 216.16 L146.39 214.77 L149.51 213.38 L152.63 211.99 L155.75 210.61 L158.86 209.22 L161.98 207.85 L165.10 206.47 L168.22 205.10 L171.34 203.73 L174.46 202.36 L177.58 201.00 L180.70 199.64 L183.82 198.29 L186.94 196.94 L190.05 195.59 L193.17 194.25 L196.29 192.91 L199.41 191.57 L202.53 190.24 L205.65 188.91 L208.77 187.59 L211.89 186.27 L215.01 184.95 L218.13 183.64 L221.24 182.34 L224.36 181.04 L227.48 179.74 L230.60 178.45 L233.72 177.16 L236.84 175.88 L239.96 174.60 L243.08 173.33 L246.20 172.06 L249.32 170.80 L252.43 169.54 L255.55 168.29 L258.67 167.04 L261.79 165.80 L264.91 164.56 L268.03 163.33 L271.15 162.10 L274.27 160.88 L277.39 159.67 L280.51 158.46 L283.62 157.25 L286.74 156.06 L289.86 154.86 L292.98 153.68 L296.10 152.49 L299.22 151.32 L302.34 150.15 L305.46 148.99 L308.58 147.83 L311.69 146.68 L314.81 145.53 L317.93 144.39 L321.05 143.26 L324.17 142.13 L327.29 141.01 L330.41 139.89 L333.53 138.79 L336.65 137.68 L339.77 136.59 L342.88 135.50 L346.00 134.41 L349.12 133.34 L352.24 132.27 L355.36 131.20 L358.48 130.15 L361.60 129.09 L364.72 128.05 L367.84 127.01 L370.96 125.98 L374.07 124.96 L377.19 123.94 L380.31 122.93 L383.43 121.92 L386.55 120.92 L389.67 119.93 L392.79 118.95 L395.91 117.97 L399.03 117.00 L402.15 116.03 L405.26 115.07 L408.38 114.12 L411.50 113.18 L414.62 112.24 L417.74 111.31 L420.86 110.39 L423.98 109.47 L427.10 108.56 L430.22 107.65 L433.34 106.76 L436.45 105.87 L439.57 104.98 L442.69 104.11 L445.81 103.24 L448.93 102.38 L452.05 101.52 L455.17 100.67 L458.29 99.83 L461.41 98.99 L464.53 98.17 L467.64 97.34 L470.76 96.53 L473.88 95.72 L477.00 94.92 L480.12 94.13 L483.24 93.34 L486.36 92.56 L489.48 91.78 L492.60 91.02 L495.72 90.25 L498.83 89.50 L501.95 88.75 L505.07 88.01 L508.19 87.28 L511.31 86.55 L514.43 85.83 L517.55 85.12 L520.67 84.41 L523.79 83.71 L526.91 83.01 L530.02 82.33 L533.14 81.65 L536.26 80.97 L539.38 80.30 L542.50 79.64" stroke="#D26012" stroke-width="2.0" fill="none" stroke-linejoin="round"/>
<path d="M44.60 261.20 C61.75 253.56 85.43 243.00 105.84 233.90 L108.96 232.53 L112.08 231.15 L115.20 229.77 L118.32 228.40 L121.44 227.03 L124.56 225.66 L127.67 224.29 L130.79 222.92 L133.91 221.56 L137.03 220.20 L140.15 218.84 L143.27 217.48 L146.39 216.13 L149.51 214.78 L152.63 213.43 L155.75 212.08 L158.86 210.74 L161.98 209.40 L165.10 208.06 L168.22 206.72 L171.34 205.39 L174.46 204.06 L177.58 202.74 L180.70 201.41 L183.82 200.09 L186.94 198.78 L190.05 197.47 L193.17 196.16 L196.29 194.85 L199.41 193.55 L202.53 192.25 L205.65 190.96 L208.77 189.67 L211.89 188.38 L215.01 187.10 L218.13 185.82 L221.24 184.55 L224.36 183.28 L227.48 182.01 L230.60 180.75 L233.72 179.50 L236.84 178.24 L239.96 176.99 L243.08 175.75 L246.20 174.51 L249.32 173.28 L252.43 172.05 L255.55 170.82 L258.67 169.60 L261.79 168.39 L264.91 167.18 L268.03 165.97 L271.15 164.77 L274.27 163.57 L277.39 162.38 L280.51 161.20 L283.62 160.02 L286.74 158.84 L289.86 157.67 L292.98 156.51 L296.10 155.35 L299.22 154.19 L302.34 153.05 L305.46 151.90 L308.58 150.77 L311.69 149.63 L314.81 148.51 L317.93 147.39 L321.05 146.27 L324.17 145.16 L327.29 144.06 L330.41 142.96 L333.53 141.87 L336.65 140.78 L339.77 139.70 L342.88 138.63 L346.00 137.56 L349.12 136.49 L352.24 135.44 L355.36 134.39 L358.48 133.34 L361.60 132.30 L364.72 131.27 L367.84 130.24 L370.96 129.22 L374.07 128.21 L377.19 127.20 L380.31 126.20 L383.43 125.20 L386.55 124.21 L389.67 123.23 L392.79 122.25 L395.91 121.28 L399.03 120.32 L402.15 119.36 L405.26 118.41 L408.38 117.46 L411.50 116.52 L414.62 115.59 L417.74 114.67 L420.86 113.75 L423.98 112.83 L427.10 111.92 L430.22 111.02 L433.34 110.13 L436.45 109.24 L439.57 108.36 L442.69 107.48 L445.81 106.62 L448.93 105.75 L452.05 104.90 L455.17 104.05 L458.29 103.20 L461.41 102.37 L464.53 101.54 L467.64 100.71 L470.76 99.90 L473.88 99.09 L477.00 98.28 L480.12 97.48 L483.24 96.69 L486.36 95.91 L489.48 95.13 L492.60 94.35 L495.72 93.59 L498.83 92.83 L501.95 92.07 L505.07 91.33 L508.19 90.59 L511.31 89.85 L514.43 89.12 L517.55 88.40 L520.67 87.69 L523.79 86.98 L526.91 86.27 L530.02 85.58 L533.14 84.89 L536.26 84.20 L539.38 83.53 L542.50 82.85" stroke="#848484" stroke-width="2.0" fill="none" stroke-linejoin="round"/>
<path d="M44.60 261.20 C61.75 253.77 85.43 243.51 105.84 234.67 L108.96 233.33 L112.08 231.99 L115.20 230.65 L118.32 229.31 L121.44 227.98 L124.56 226.65 L127.67 225.31 L130.79 223.99 L133.91 222.66 L137.03 221.33 L140.15 220.01 L143.27 218.69 L146.39 217.37 L149.51 216.06 L152.63 214.74 L155.75 213.43 L158.86 212.12 L161.98 210.82 L165.10 209.51 L168.22 208.21 L171.34 206.92 L174.46 205.62 L177.58 204.33 L180.70 203.04 L183.82 201.75 L186.94 200.47 L190.05 199.19 L193.17 197.92 L196.29 196.64 L199.41 195.37 L202.53 194.11 L205.65 192.84 L208.77 191.58 L211.89 190.33 L215.01 189.08 L218.13 187.83 L221.24 186.58 L224.36 185.34 L227.48 184.11 L230.60 182.87 L233.72 181.65 L236.84 180.42 L239.96 179.20 L243.08 177.98 L246.20 176.77 L249.32 175.56 L252.43 174.36 L255.55 173.16 L258.67 171.97 L261.79 170.78 L264.91 169.59 L268.03 168.41 L271.15 167.23 L274.27 166.06 L277.39 164.89 L280.51 163.73 L283.62 162.57 L286.74 161.42 L289.86 160.27 L292.98 159.13 L296.10 157.99 L299.22 156.86 L302.34 155.73 L305.46 154.60 L308.58 153.49 L311.69 152.37 L314.81 151.27 L317.93 150.16 L321.05 149.07 L324.17 147.97 L327.29 146.89 L330.41 145.81 L333.53 144.73 L336.65 143.66 L339.77 142.59 L342.88 141.54 L346.00 140.48 L349.12 139.43 L352.24 138.39 L355.36 137.35 L358.48 136.32 L361.60 135.29 L364.72 134.27 L367.84 133.26 L370.96 132.25 L374.07 131.25 L377.19 130.25 L380.31 129.26 L383.43 128.27 L386.55 127.29 L389.67 126.32 L392.79 125.35 L395.91 124.39 L399.03 123.43 L402.15 122.48 L405.26 121.53 L408.38 120.59 L411.50 119.66 L414.62 118.73 L417.74 117.81 L420.86 116.90 L423.98 115.99 L427.10 115.09 L430.22 114.19 L433.34 113.30 L436.45 112.41 L439.57 111.53 L442.69 110.66 L445.81 109.79 L448.93 108.93 L452.05 108.08 L455.17 107.23 L458.29 106.39 L461.41 105.55 L464.53 104.72 L467.64 103.90 L470.76 103.08 L473.88 102.27 L477.00 101.46 L480.12 100.66 L483.24 99.87 L486.36 99.08 L489.48 98.30 L492.60 97.52 L495.72 96.75 L498.83 95.99 L501.95 95.23 L505.07 94.48 L508.19 93.73 L511.31 92.99 L514.43 92.26 L517.55 91.53 L520.67 90.81 L523.79 90.09 L526.91 89.38 L530.02 88.68 L533.14 87.98 L536.26 87.29 L539.38 86.60 L542.50 85.92" stroke="#CC9A00" stroke-width="2.0" fill="none" stroke-linejoin="round"/>
<path d="M44.60 261.20 C61.75 253.97 85.43 243.98 105.84 235.37 L108.96 234.07 L112.08 232.76 L115.20 231.46 L118.32 230.16 L121.44 228.86 L124.56 227.56 L127.67 226.26 L130.79 224.97 L133.91 223.67 L137.03 222.38 L140.15 221.09 L143.27 219.80 L146.39 218.52 L149.51 217.24 L152.63 215.96 L155.75 214.68 L158.86 213.40 L161.98 212.13 L165.10 210.86 L168.22 209.59 L171.34 208.32 L174.46 207.06 L177.58 205.80 L180.70 204.54 L183.82 203.28 L186.94 202.03 L190.05 200.78 L193.17 199.54 L196.29 198.29 L199.41 197.05 L202.53 195.82 L205.65 194.58 L208.77 193.35 L211.89 192.13 L215.01 190.90 L218.13 189.68 L221.24 188.47 L224.36 187.25 L227.48 186.04 L230.60 184.84 L233.72 183.63 L236.84 182.44 L239.96 181.24 L243.08 180.05 L246.20 178.86 L249.32 177.68 L252.43 176.50 L255.55 175.33 L258.67 174.16 L261.79 172.99 L264.91 171.83 L268.03 170.67 L271.15 169.52 L274.27 168.37 L277.39 167.22 L280.51 166.08 L283.62 164.94 L286.74 163.81 L289.86 162.68 L292.98 161.56 L296.10 160.44 L299.22 159.33 L302.34 158.22 L305.46 157.12 L308.58 156.02 L311.69 154.92 L314.81 153.83 L317.93 152.75 L321.05 151.67 L324.17 150.59 L327.29 149.52 L330.41 148.46 L333.53 147.40 L336.65 146.34 L339.77 145.29 L342.88 144.25 L346.00 143.21 L349.12 142.17 L352.24 141.15 L355.36 140.12 L358.48 139.10 L361.60 138.09 L364.72 137.08 L367.84 136.08 L370.96 135.08 L374.07 134.09 L377.19 133.10 L380.31 132.12 L383.43 131.14 L386.55 130.17 L389.67 129.21 L392.79 128.25 L395.91 127.30 L399.03 126.35 L402.15 125.40 L405.26 124.47 L408.38 123.53 L411.50 122.61 L414.62 121.69 L417.74 120.77 L420.86 119.86 L423.98 118.96 L427.10 118.06 L430.22 117.17 L433.34 116.28 L436.45 115.40 L439.57 114.53 L442.69 113.66 L445.81 112.79 L448.93 111.94 L452.05 111.08 L455.17 110.24 L458.29 109.40 L461.41 108.56 L464.53 107.73 L467.64 106.91 L470.76 106.09 L473.88 105.28 L477.00 104.47 L480.12 103.67 L483.24 102.88 L486.36 102.09 L489.48 101.30 L492.60 100.53 L495.72 99.75 L498.83 98.99 L501.95 98.23 L505.07 97.47 L508.19 96.72 L511.31 95.98 L514.43 95.24 L517.55 94.51 L520.67 93.78 L523.79 93.06 L526.91 92.35 L530.02 91.64 L533.14 90.94 L536.26 90.24 L539.38 89.55 L542.50 88.86" stroke="#327DC2" stroke-width="2.0" fill="none" stroke-linejoin="round"/>
<path d="M44.60 261.20 C61.75 254.15 85.43 244.41 105.84 236.02 L108.96 234.75 L112.08 233.47 L115.20 232.20 L118.32 230.93 L121.44 229.67 L124.56 228.40 L127.67 227.13 L130.79 225.87 L133.91 224.61 L137.03 223.35 L140.15 222.09 L143.27 220.84 L146.39 219.58 L149.51 218.33 L152.63 217.08 L155.75 215.83 L158.86 214.59 L161.98 213.34 L165.10 212.10 L168.22 210.86 L171.34 209.62 L174.46 208.39 L177.58 207.16 L180.70 205.93 L183.82 204.70 L186.94 203.48 L190.05 202.26 L193.17 201.04 L196.29 199.83 L199.41 198.61 L202.53 197.40 L205.65 196.20 L208.77 194.99 L211.89 193.79 L215.01 192.60 L218.13 191.40 L221.24 190.21 L224.36 189.02 L227.48 187.84 L230.60 186.66 L233.72 185.48 L236.84 184.31 L239.96 183.14 L243.08 181.97 L246.20 180.81 L249.32 179.65 L252.43 178.49 L255.55 177.34 L258.67 176.19 L261.79 175.05 L264.91 173.91 L268.03 172.77 L271.15 171.64 L274.27 170.51 L277.39 169.39 L280.51 168.27 L283.62 167.15 L286.74 166.04 L289.86 164.93 L292.98 163.83 L296.10 162.73 L299.22 161.64 L302.34 160.55 L305.46 159.46 L308.58 158.38 L311.69 157.30 L314.81 156.23 L317.93 155.16 L321.05 154.10 L324.17 153.04 L327.29 151.99 L330.41 150.94 L333.53 149.89 L336.65 148.85 L339.77 147.82 L342.88 146.79 L346.00 145.76 L349.12 144.74 L352.24 143.73 L355.36 142.71 L358.48 141.71 L361.60 140.71 L364.72 139.71 L367.84 138.72 L370.96 137.73 L374.07 136.75 L377.19 135.78 L380.31 134.81 L383.43 133.84 L386.55 132.88 L389.67 131.93 L392.79 130.98 L395.91 130.03 L399.03 129.09 L402.15 128.16 L405.26 127.23 L408.38 126.30 L411.50 125.38 L414.62 124.47 L417.74 123.56 L420.86 122.66 L423.98 121.76 L427.10 120.87 L430.22 119.98 L433.34 119.10 L436.45 118.22 L439.57 117.35 L442.69 116.49 L445.81 115.63 L448.93 114.77 L452.05 113.92 L455.17 113.08 L458.29 112.24 L461.41 111.41 L464.53 110.58 L467.64 109.76 L470.76 108.94 L473.88 108.13 L477.00 107.33 L480.12 106.53 L483.24 105.73 L486.36 104.94 L489.48 104.16 L492.60 103.38 L495.72 102.61 L498.83 101.84 L501.95 101.08 L505.07 100.32 L508.19 99.57 L511.31 98.83 L514.43 98.09 L517.55 97.35 L520.67 96.62 L523.79 95.90 L526.91 95.18 L530.02 94.47 L533.14 93.76 L536.26 93.06 L539.38 92.36 L542.50 91.67" stroke="#5A8A39" stroke-width="2.0" fill="none" stroke-linejoin="round"/>
<text x="35.20" y="34.40" font-size="9.60" font-weight="bold" text-anchor="end">0</text>
<text x="35.20" y="57.42" font-size="9.60" font-weight="bold" text-anchor="end">-0.1</text>
<text x="35.20" y="80.44" font-size="9.60" font-weight="bold" text-anchor="end">-0.2</text>
<text x="35.20" y="103.46" font-size="9.60" font-weight="bold" text-anchor="end">-0.3</text>
<text x="35.20" y="126.48" font-size="9.60" font-weight="bold" text-anchor="end">-0.4</text>
<text x="35.20" y="149.50" font-size="9.60" font-weight="bold" text-anchor="end">-0.5</text>
<text x="35.20" y="172.52" font-size="9.60" font-weight="bold" text-anchor="end">-0.6</text>
<text x="35.20" y="195.54" font-size="9.60" font-weight="bold" text-anchor="end">-0.7</text>
<text x="35.20" y="218.56" font-size="9.60" font-weight="bold" text-anchor="end">-0.8</text>
<text x="35.20" y="241.58" font-size="9.60" font-weight="bold" text-anchor="end">-0.9</text>
<text x="35.20" y="264.60" font-size="9.60" font-weight="bold" text-anchor="end">-1</text>
<text x="44.60" y="278.20" font-size="9.60" font-weight="bold" text-anchor="middle">0</text>
<text x="94.39" y="278.20" font-size="9.60" font-weight="bold" text-anchor="middle">0.5</text>
<text x="144.18" y="278.20" font-size="9.60" font-weight="bold" text-anchor="middle">1</text>
<text x="193.97" y="278.20" font-size="9.60" font-weight="bold" text-anchor="middle">1.5</text>
<text x="243.76" y="278.20" font-size="9.60" font-weight="bold" text-anchor="middle">2</text>
<text x="293.55" y="278.20" font-size="9.60" font-weight="bold" text-anchor="middle">2.5</text>
<text x="343.34" y="278.20" font-size="9.60" font-weight="bold" text-anchor="middle">3</text>
<text x="393.13" y="278.20" font-size="9.60" font-weight="bold" text-anchor="middle">3.5</text>
<text x="442.92" y="278.20" font-size="9.60" font-weight="bold" text-anchor="middle">4</text>
<text x="492.71" y="278.20" font-size="9.60" font-weight="bold" text-anchor="middle">4.5</text>
<text x="542.50" y="278.20" font-size="9.60" font-weight="bold" text-anchor="middle">5</text>
<text x="230.60" y="295.80" font-size="9.60" font-weight="bold" text-anchor="start" textLength="126.7" lengthAdjust="spacingAndGlyphs">Non-Dimensional Distance</text>
<g transform="translate(12.8,146.1) rotate(-90)"><text x="0.00" y="0.00" font-size="11.40" font-weight="bold" text-anchor="middle" textLength="210.0" lengthAdjust="spacingAndGlyphs">Normalized Pressure Change, &#916;<tspan font-style="italic">P</tspan>(x,t)/|&#916;<tspan font-style="italic">P</tspan><tspan font-size="8" dy="2">0</tspan><tspan dy="-2">|</tspan></text></g>
<line x1="129.60" y1="31.00" x2="128.10" y2="251.50" stroke="#000" stroke-width="2.40" stroke-dasharray="9 7.1 2 7.1" stroke-dashoffset="0.0"/><path d="M125.00 251.00L131.20 251.00L128.10 257.80Z" fill="#000"/>
<line x1="208.50" y1="31.00" x2="209.80" y2="224.80" stroke="#000" stroke-width="2.40" stroke-dasharray="9 7.1 2 7.1" stroke-dashoffset="0.0"/><path d="M206.70 224.30L212.90 224.30L209.80 231.10Z" fill="#000"/>
<line x1="323.60" y1="31.00" x2="323.60" y2="175.10" stroke="#000" stroke-width="2.40" stroke-dasharray="9 7.1 2 7.1" stroke-dashoffset="0.0"/><path d="M320.50 174.60L326.70 174.60L323.60 181.40Z" fill="#000"/>
<line x1="416.40" y1="31.00" x2="414.70" y2="141.70" stroke="#000" stroke-width="2.40" stroke-dasharray="9 7.1 2 7.1" stroke-dashoffset="0.0"/><path d="M411.60 141.20L417.80 141.20L414.70 148.00Z" fill="#000"/>
<line x1="511.60" y1="31.00" x2="510.80" y2="116.00" stroke="#000" stroke-width="2.40" stroke-dasharray="9 7.1 2 7.1" stroke-dashoffset="0.0"/><path d="M507.70 115.50L513.90 115.50L510.80 122.30Z" fill="#000"/>
<rect x="239.6" y="190.5" width="297" height="64.3" fill="#fff" stroke="#666" stroke-width="1"/>
<text x="246.50" y="208.50" font-size="11.90" font-weight="normal" text-anchor="start" textLength="165.5" lengthAdjust="spacingAndGlyphs">Normalized pressure changes,</text>
<text x="426.80" y="201.40" font-size="7.20" font-weight="bold" text-anchor="middle" textLength="25.0" lengthAdjust="spacingAndGlyphs" style="font-family:'Liberation Serif',serif">&#916;<tspan font-style="italic">P</tspan>(<tspan font-style="italic">x,t</tspan>)</text>
<line x1="414.2" y1="203.6" x2="439.3" y2="203.6" stroke="#000" stroke-width="0.6"/>
<text x="426.00" y="212.20" font-size="7.00" font-weight="bold" text-anchor="middle" textLength="18.0" lengthAdjust="spacingAndGlyphs" style="font-family:'Liberation Serif',serif">|&#916;<tspan font-style="italic">P</tspan><tspan font-size="5.5" dy="0.8">0</tspan><tspan dy="-0.8">|</tspan></text>
<text x="442.50" y="208.00" font-size="13.00" font-weight="bold" text-anchor="start" textLength="68.8" lengthAdjust="spacingAndGlyphs">decreasing</text>
<text x="246.00" y="227.60" font-size="11.90" font-weight="normal" text-anchor="start" textLength="265.0" lengthAdjust="spacingAndGlyphs">everywhere in the reservoir with time, except at</text>
<text x="246.00" y="245.00" font-size="11.90" font-weight="normal" text-anchor="start" textLength="271.0" lengthAdjust="spacingAndGlyphs">well location, x = 0 where it is held constant at -1.</text>
<line x1="62.7" y1="311.4" x2="82.3" y2="311.4" stroke="#4472C4" stroke-width="1.7"/>
<text x="83.50" y="314.30" font-size="10.20" font-weight="bold" text-anchor="start" letter-spacing="0.15">t=0.00001</text>
<line x1="140.2" y1="311.4" x2="159.8" y2="311.4" stroke="#ED7D31" stroke-width="1.7"/>
<text x="161.00" y="314.30" font-size="10.20" font-weight="bold" text-anchor="start" letter-spacing="0.15">t=0.1</text>
<line x1="219.0" y1="311.4" x2="238.6" y2="311.4" stroke="#A5A5A5" stroke-width="1.7"/>
<text x="239.80" y="314.30" font-size="10.20" font-weight="bold" text-anchor="start" letter-spacing="0.15">t=0.2</text>
<line x1="296.6" y1="311.4" x2="316.2" y2="311.4" stroke="#FFC000" stroke-width="1.7"/>
<text x="317.40" y="314.30" font-size="10.20" font-weight="bold" text-anchor="start" letter-spacing="0.15">t=0.4</text>
<line x1="375.2" y1="311.4" x2="394.8" y2="311.4" stroke="#5B9BD5" stroke-width="1.7"/>
<text x="396.00" y="314.30" font-size="10.20" font-weight="bold" text-anchor="start" letter-spacing="0.15">t=0.5</text>
<line x1="453.8" y1="311.4" x2="473.4" y2="311.4" stroke="#70AD47" stroke-width="1.7"/>
<text x="474.60" y="314.30" font-size="10.20" font-weight="bold" text-anchor="start" letter-spacing="0.15">t=1</text>
<line x1="62.7" y1="324.8" x2="82.3" y2="324.8" stroke="#264478" stroke-width="1.7"/>
<text x="83.50" y="327.70" font-size="10.20" font-weight="bold" text-anchor="start" letter-spacing="0.15">t=1.5</text>
<line x1="140.2" y1="324.8" x2="159.8" y2="324.8" stroke="#9E480E" stroke-width="1.7"/>
<text x="161.00" y="327.70" font-size="10.20" font-weight="bold" text-anchor="start" letter-spacing="0.15">t=2</text>
<line x1="219.0" y1="324.8" x2="238.6" y2="324.8" stroke="#636363" stroke-width="1.7"/>
<text x="239.80" y="327.70" font-size="10.20" font-weight="bold" text-anchor="start" letter-spacing="0.15">t=2.5</text>
<line x1="296.6" y1="324.8" x2="316.2" y2="324.8" stroke="#997300" stroke-width="1.7"/>
<text x="317.40" y="327.70" font-size="10.20" font-weight="bold" text-anchor="start" letter-spacing="0.15">t=3</text>
<line x1="375.2" y1="324.8" x2="394.8" y2="324.8" stroke="#255E91" stroke-width="1.7"/>
<text x="396.00" y="327.70" font-size="10.20" font-weight="bold" text-anchor="start" letter-spacing="0.15">t=3.5</text>
<line x1="453.8" y1="324.8" x2="473.4" y2="324.8" stroke="#43682B" stroke-width="1.7"/>
<text x="474.60" y="327.70" font-size="10.20" font-weight="bold" text-anchor="start" letter-spacing="0.15">t=4</text>
<line x1="62.7" y1="338.0" x2="82.3" y2="338.0" stroke="#698ED0" stroke-width="1.7"/>
<text x="83.50" y="340.90" font-size="10.20" font-weight="bold" text-anchor="start" letter-spacing="0.15">t=4.5</text>
<line x1="140.2" y1="338.0" x2="159.8" y2="338.0" stroke="#F1975A" stroke-width="1.7"/>
<text x="161.00" y="340.90" font-size="10.20" font-weight="bold" text-anchor="start" letter-spacing="0.15">t=5</text>
<line x1="219.0" y1="338.0" x2="238.6" y2="338.0" stroke="#B7B7B7" stroke-width="1.7"/>
<text x="239.80" y="340.90" font-size="10.20" font-weight="bold" text-anchor="start" letter-spacing="0.15">t=5.5</text>
<line x1="296.6" y1="338.0" x2="316.2" y2="338.0" stroke="#FFCD33" stroke-width="1.7"/>
<text x="317.40" y="340.90" font-size="10.20" font-weight="bold" text-anchor="start" letter-spacing="0.15">t=6</text>
<line x1="375.2" y1="338.0" x2="394.8" y2="338.0" stroke="#7CAFDD" stroke-width="1.7"/>
<text x="396.00" y="340.90" font-size="10.20" font-weight="bold" text-anchor="start" letter-spacing="0.15">t=6.5</text>
<line x1="453.8" y1="338.0" x2="473.4" y2="338.0" stroke="#8CC168" stroke-width="1.7"/>
<text x="474.60" y="340.90" font-size="10.20" font-weight="bold" text-anchor="start" letter-spacing="0.15">t=7</text>
<line x1="62.7" y1="351.0" x2="82.3" y2="351.0" stroke="#335AA1" stroke-width="1.7"/>
<text x="83.50" y="353.90" font-size="10.20" font-weight="bold" text-anchor="start" letter-spacing="0.15">t=7.5</text>
<line x1="140.2" y1="351.0" x2="159.8" y2="351.0" stroke="#D26012" stroke-width="1.7"/>
<text x="161.00" y="353.90" font-size="10.20" font-weight="bold" text-anchor="start" letter-spacing="0.15">t=8</text>
<line x1="219.0" y1="351.0" x2="238.6" y2="351.0" stroke="#848484" stroke-width="1.7"/>
<text x="239.80" y="353.90" font-size="10.20" font-weight="bold" text-anchor="start" letter-spacing="0.15">t=8.5</text>
<line x1="296.6" y1="351.0" x2="316.2" y2="351.0" stroke="#CC9A00" stroke-width="1.7"/>
<text x="317.40" y="353.90" font-size="10.20" font-weight="bold" text-anchor="start" letter-spacing="0.15">t=9</text>
<line x1="375.2" y1="351.0" x2="394.8" y2="351.0" stroke="#327DC2" stroke-width="1.7"/>
<text x="396.00" y="353.90" font-size="10.20" font-weight="bold" text-anchor="start" letter-spacing="0.15">t=9.5</text>
<line x1="453.8" y1="351.0" x2="473.4" y2="351.0" stroke="#5A8A39" stroke-width="1.7"/>
<text x="474.60" y="353.90" font-size="10.20" font-weight="bold" text-anchor="start" letter-spacing="0.15">t=10</text>
<text x="229.40" y="381.60" font-size="11.20" font-weight="bold" text-anchor="start" textLength="94.6" lengthAdjust="spacingAndGlyphs">(b) Injection Well</text>
<path d="M98.41 397.50V624.20M147.92 397.50V624.20M197.43 397.50V624.20M246.94 397.50V624.20M296.45 397.50V624.20M345.96 397.50V624.20M395.47 397.50V624.20M444.98 397.50V624.20M494.49 397.50V624.20M48.90 420.17H544.00M48.90 442.84H544.00M48.90 465.51H544.00M48.90 488.18H544.00M48.90 510.85H544.00M48.90 533.52H544.00M48.90 556.19H544.00M48.90 578.86H544.00M48.90 601.53H544.00" stroke="#DDDDDD" stroke-width="0.8" fill="none"/>
<rect x="48.90" y="397.50" width="495.10" height="226.70" fill="none" stroke="#000" stroke-width="1.3"/>
<path d="M48.90 397.50 L49.89 403.17 L50.19 510.85 L50.34 617.40 L50.68 621.48 L51.38 622.95 L52.46 623.29 L544.00 623.29" stroke="#4472C4" stroke-width="2.0" fill="none" stroke-linejoin="round"/>
<path d="M48.90 397.50 C59.36 452.38 89.50 523.08 109.80 585.87 L112.90 590.56 L116.00 594.80 L119.10 598.61 L122.20 602.02 L125.30 605.05 L128.41 607.74 L131.51 610.12 L134.61 612.20 L137.71 614.02 L140.81 615.60 L143.91 616.97 L147.01 618.14 L150.12 619.15 L153.22 620.01 L156.32 620.74 L159.42 621.35 L162.52 621.87 L165.62 622.30 L168.72 622.66 L171.83 622.95 L174.93 623.20 L178.03 623.40 L181.13 623.56 L184.23 623.69 L187.33 623.80 L190.43 623.88 L193.54 623.95 L196.64 624.01 L199.74 624.05 L202.84 624.08 L205.94 624.11 L209.04 624.13 L212.15 624.15 L215.25 624.16 L218.35 624.17 L221.45 624.18 L224.55 624.18 L227.65 624.19 L230.75 624.19 L233.86 624.19 L236.96 624.20 L240.06 624.20 L243.16 624.20 L246.26 624.20 L249.36 624.20 L252.46 624.20 L255.57 624.20 L258.67 624.20 L261.77 624.20 L264.87 624.20 L267.97 624.20 L271.07 624.20 L274.17 624.20 L277.28 624.20 L280.38 624.20 L283.48 624.20 L286.58 624.20 L289.68 624.20 L292.78 624.20 L295.88 624.20 L298.99 624.20 L302.09 624.20 L305.19 624.20 L308.29 624.20 L311.39 624.20 L314.49 624.20 L317.59 624.20 L320.70 624.20 L323.80 624.20 L326.90 624.20 L330.00 624.20 L333.10 624.20 L336.20 624.20 L339.30 624.20 L342.41 624.20 L345.51 624.20 L348.61 624.20 L351.71 624.20 L354.81 624.20 L357.91 624.20 L361.01 624.20 L364.12 624.20 L367.22 624.20 L370.32 624.20 L373.42 624.20 L376.52 624.20 L379.62 624.20 L382.72 624.20 L385.83 624.20 L388.93 624.20 L392.03 624.20 L395.13 624.20 L398.23 624.20 L401.33 624.20 L404.43 624.20 L407.54 624.20 L410.64 624.20 L413.74 624.20 L416.84 624.20 L419.94 624.20 L423.04 624.20 L426.14 624.20 L429.25 624.20 L432.35 624.20 L435.45 624.20 L438.55 624.20 L441.65 624.20 L444.75 624.20 L447.86 624.20 L450.96 624.20 L454.06 624.20 L457.16 624.20 L460.26 624.20 L463.36 624.20 L466.46 624.20 L469.57 624.20 L472.67 624.20 L475.77 624.20 L478.87 624.20 L481.97 624.20 L485.07 624.20 L488.17 624.20 L491.28 624.20 L494.38 624.20 L497.48 624.20 L500.58 624.20 L503.68 624.20 L506.78 624.20 L509.88 624.20 L512.99 624.20 L516.09 624.20 L519.19 624.20 L522.29 624.20 L525.39 624.20 L528.49 624.20 L531.59 624.20 L534.70 624.20 L537.80 624.20 L540.90 624.20 L544.00 624.20" stroke="#ED7D31" stroke-width="2.0" fill="none" stroke-linejoin="round"/>
<path d="M48.90 397.50 C60.64 442.11 89.50 498.63 109.80 549.20 L112.90 554.64 L116.00 559.82 L119.10 564.74 L122.20 569.38 L125.30 573.77 L128.41 577.90 L131.51 581.77 L134.61 585.41 L137.71 588.80 L140.81 591.96 L143.91 594.90 L147.01 597.63 L150.12 600.16 L153.22 602.49 L156.32 604.64 L159.42 606.61 L162.52 608.41 L165.62 610.07 L168.72 611.57 L171.83 612.94 L174.93 614.18 L178.03 615.31 L181.13 616.33 L184.23 617.24 L187.33 618.06 L190.43 618.80 L193.54 619.46 L196.64 620.05 L199.74 620.57 L202.84 621.03 L205.94 621.44 L209.04 621.81 L212.15 622.13 L215.25 622.41 L218.35 622.65 L221.45 622.87 L224.55 623.06 L227.65 623.22 L230.75 623.36 L233.86 623.49 L236.96 623.59 L240.06 623.69 L243.16 623.76 L246.26 623.83 L249.36 623.89 L252.46 623.94 L255.57 623.98 L258.67 624.02 L261.77 624.05 L264.87 624.07 L267.97 624.09 L271.07 624.11 L274.17 624.13 L277.28 624.14 L280.38 624.15 L283.48 624.16 L286.58 624.17 L289.68 624.17 L292.78 624.18 L295.88 624.18 L298.99 624.19 L302.09 624.19 L305.19 624.19 L308.29 624.19 L311.39 624.19 L314.49 624.19 L317.59 624.20 L320.70 624.20 L323.80 624.20 L326.90 624.20 L330.00 624.20 L333.10 624.20 L336.20 624.20 L339.30 624.20 L342.41 624.20 L345.51 624.20 L348.61 624.20 L351.71 624.20 L354.81 624.20 L357.91 624.20 L361.01 624.20 L364.12 624.20 L367.22 624.20 L370.32 624.20 L373.42 624.20 L376.52 624.20 L379.62 624.20 L382.72 624.20 L385.83 624.20 L388.93 624.20 L392.03 624.20 L395.13 624.20 L398.23 624.20 L401.33 624.20 L404.43 624.20 L407.54 624.20 L410.64 624.20 L413.74 624.20 L416.84 624.20 L419.94 624.20 L423.04 624.20 L426.14 624.20 L429.25 624.20 L432.35 624.20 L435.45 624.20 L438.55 624.20 L441.65 624.20 L444.75 624.20 L447.86 624.20 L450.96 624.20 L454.06 624.20 L457.16 624.20 L460.26 624.20 L463.36 624.20 L466.46 624.20 L469.57 624.20 L472.67 624.20 L475.77 624.20 L478.87 624.20 L481.97 624.20 L485.07 624.20 L488.17 624.20 L491.28 624.20 L494.38 624.20 L497.48 624.20 L500.58 624.20 L503.68 624.20 L506.78 624.20 L509.88 624.20 L512.99 624.20 L516.09 624.20 L519.19 624.20 L522.29 624.20 L525.39 624.20 L528.49 624.20 L531.59 624.20 L534.70 624.20 L537.80 624.20 L540.90 624.20 L544.00 624.20" stroke="#A5A5A5" stroke-width="2.0" fill="none" stroke-linejoin="round"/>
<path d="M48.90 397.50 C61.92 431.90 89.50 474.32 109.80 512.73 L112.90 517.67 L116.00 522.49 L119.10 527.18 L122.20 531.74 L125.30 536.17 L128.41 540.47 L131.51 544.64 L134.61 548.67 L137.71 552.57 L140.81 556.33 L143.91 559.96 L147.01 563.46 L150.12 566.82 L153.22 570.05 L156.32 573.15 L159.42 576.12 L162.52 578.97 L165.62 581.69 L168.72 584.28 L171.83 586.76 L174.93 589.12 L178.03 591.36 L181.13 593.50 L184.23 595.52 L187.33 597.44 L190.43 599.26 L193.54 600.97 L196.64 602.60 L199.74 604.13 L202.84 605.57 L205.94 606.93 L209.04 608.20 L212.15 609.40 L215.25 610.52 L218.35 611.57 L221.45 612.55 L224.55 613.47 L227.65 614.32 L230.75 615.12 L233.86 615.86 L236.96 616.55 L240.06 617.20 L243.16 617.79 L246.26 618.34 L249.36 618.85 L252.46 619.32 L255.57 619.75 L258.67 620.15 L261.77 620.52 L264.87 620.86 L267.97 621.17 L271.07 621.45 L274.17 621.71 L277.28 621.95 L280.38 622.17 L283.48 622.37 L286.58 622.55 L289.68 622.71 L292.78 622.86 L295.88 623.00 L298.99 623.12 L302.09 623.24 L305.19 623.34 L308.29 623.43 L311.39 623.51 L314.49 623.59 L317.59 623.65 L320.70 623.71 L323.80 623.77 L326.90 623.82 L330.00 623.86 L333.10 623.90 L336.20 623.93 L339.30 623.96 L342.41 623.99 L345.51 624.02 L348.61 624.04 L351.71 624.06 L354.81 624.07 L357.91 624.09 L361.01 624.10 L364.12 624.12 L367.22 624.13 L370.32 624.14 L373.42 624.14 L376.52 624.15 L379.62 624.16 L382.72 624.16 L385.83 624.17 L388.93 624.17 L392.03 624.18 L395.13 624.18 L398.23 624.18 L401.33 624.18 L404.43 624.19 L407.54 624.19 L410.64 624.19 L413.74 624.19 L416.84 624.19 L419.94 624.19 L423.04 624.19 L426.14 624.20 L429.25 624.20 L432.35 624.20 L435.45 624.20 L438.55 624.20 L441.65 624.20 L444.75 624.20 L447.86 624.20 L450.96 624.20 L454.06 624.20 L457.16 624.20 L460.26 624.20 L463.36 624.20 L466.46 624.20 L469.57 624.20 L472.67 624.20 L475.77 624.20 L478.87 624.20 L481.97 624.20 L485.07 624.20 L488.17 624.20 L491.28 624.20 L494.38 624.20 L497.48 624.20 L500.58 624.20 L503.68 624.20 L506.78 624.20 L509.88 624.20 L512.99 624.20 L516.09 624.20 L519.19 624.20 L522.29 624.20 L525.39 624.20 L528.49 624.20 L531.59 624.20 L534.70 624.20 L537.80 624.20 L540.90 624.20 L544.00 624.20" stroke="#FFC000" stroke-width="2.0" fill="none" stroke-linejoin="round"/>
<path d="M48.90 397.50 C62.29 428.92 89.50 467.24 109.80 502.11 L112.90 506.75 L116.00 511.30 L119.10 515.76 L122.20 520.12 L125.30 524.37 L128.41 528.53 L131.51 532.58 L134.61 536.53 L137.71 540.37 L140.81 544.11 L143.91 547.74 L147.01 551.26 L150.12 554.67 L153.22 557.98 L156.32 561.18 L159.42 564.27 L162.52 567.26 L165.62 570.14 L168.72 572.91 L171.83 575.58 L174.93 578.16 L178.03 580.63 L181.13 583.00 L184.23 585.27 L187.33 587.45 L190.43 589.54 L193.54 591.53 L196.64 593.44 L199.74 595.26 L202.84 596.99 L205.94 598.64 L209.04 600.21 L212.15 601.70 L215.25 603.12 L218.35 604.47 L221.45 605.74 L224.55 606.95 L227.65 608.09 L230.75 609.17 L233.86 610.19 L236.96 611.16 L240.06 612.06 L243.16 612.91 L246.26 613.72 L249.36 614.47 L252.46 615.18 L255.57 615.84 L258.67 616.46 L261.77 617.04 L264.87 617.59 L267.97 618.09 L271.07 618.57 L274.17 619.01 L277.28 619.42 L280.38 619.80 L283.48 620.16 L286.58 620.49 L289.68 620.79 L292.78 621.08 L295.88 621.34 L298.99 621.58 L302.09 621.81 L305.19 622.01 L308.29 622.20 L311.39 622.38 L314.49 622.54 L317.59 622.69 L320.70 622.83 L323.80 622.95 L326.90 623.07 L330.00 623.17 L333.10 623.27 L336.20 623.36 L339.30 623.44 L342.41 623.51 L345.51 623.58 L348.61 623.64 L351.71 623.69 L354.81 623.75 L357.91 623.79 L361.01 623.83 L364.12 623.87 L367.22 623.90 L370.32 623.93 L373.42 623.96 L376.52 623.99 L379.62 624.01 L382.72 624.03 L385.83 624.05 L388.93 624.07 L392.03 624.08 L395.13 624.09 L398.23 624.11 L401.33 624.12 L404.43 624.13 L407.54 624.13 L410.64 624.14 L413.74 624.15 L416.84 624.15 L419.94 624.16 L423.04 624.16 L426.14 624.17 L429.25 624.17 L432.35 624.18 L435.45 624.18 L438.55 624.18 L441.65 624.18 L444.75 624.19 L447.86 624.19 L450.96 624.19 L454.06 624.19 L457.16 624.19 L460.26 624.19 L463.36 624.19 L466.46 624.19 L469.57 624.20 L472.67 624.20 L475.77 624.20 L478.87 624.20 L481.97 624.20 L485.07 624.20 L488.17 624.20 L491.28 624.20 L494.38 624.20 L497.48 624.20 L500.58 624.20 L503.68 624.20 L506.78 624.20 L509.88 624.20 L512.99 624.20 L516.09 624.20 L519.19 624.20 L522.29 624.20 L525.39 624.20 L528.49 624.20 L531.59 624.20 L534.70 624.20 L537.80 624.20 L540.90 624.20 L544.00 624.20" stroke="#5B9BD5" stroke-width="2.0" fill="none" stroke-linejoin="round"/>
<path d="M48.90 397.50 C65.95 418.85 89.50 448.33 109.80 473.75 L112.90 477.38 L116.00 480.97 L119.10 484.52 L122.20 488.03 L125.30 491.50 L128.41 494.94 L131.51 498.32 L134.61 501.67 L137.71 504.97 L140.81 508.22 L143.91 511.43 L147.01 514.58 L150.12 517.69 L153.22 520.75 L156.32 523.76 L159.42 526.72 L162.52 529.63 L165.62 532.49 L168.72 535.29 L171.83 538.04 L174.93 540.74 L178.03 543.39 L181.13 545.98 L184.23 548.52 L187.33 551.00 L190.43 553.43 L193.54 555.81 L196.64 558.13 L199.74 560.40 L202.84 562.62 L205.94 564.78 L209.04 566.89 L212.15 568.95 L215.25 570.95 L218.35 572.91 L221.45 574.81 L224.55 576.66 L227.65 578.46 L230.75 580.20 L233.86 581.90 L236.96 583.55 L240.06 585.16 L243.16 586.71 L246.26 588.22 L249.36 589.68 L252.46 591.09 L255.57 592.46 L258.67 593.79 L261.77 595.07 L264.87 596.31 L267.97 597.51 L271.07 598.67 L274.17 599.79 L277.28 600.87 L280.38 601.91 L283.48 602.91 L286.58 603.88 L289.68 604.81 L292.78 605.71 L295.88 606.57 L298.99 607.40 L302.09 608.19 L305.19 608.96 L308.29 609.70 L311.39 610.40 L314.49 611.08 L317.59 611.73 L320.70 612.35 L323.80 612.95 L326.90 613.52 L330.00 614.06 L333.10 614.59 L336.20 615.09 L339.30 615.56 L342.41 616.02 L345.51 616.45 L348.61 616.87 L351.71 617.27 L354.81 617.64 L357.91 618.00 L361.01 618.35 L364.12 618.67 L367.22 618.98 L370.32 619.28 L373.42 619.56 L376.52 619.82 L379.62 620.08 L382.72 620.32 L385.83 620.54 L388.93 620.76 L392.03 620.96 L395.13 621.16 L398.23 621.34 L401.33 621.51 L404.43 621.68 L407.54 621.83 L410.64 621.98 L413.74 622.12 L416.84 622.25 L419.94 622.37 L423.04 622.49 L426.14 622.60 L429.25 622.70 L432.35 622.80 L435.45 622.89 L438.55 622.98 L441.65 623.06 L444.75 623.13 L447.86 623.21 L450.96 623.27 L454.06 623.34 L457.16 623.39 L460.26 623.45 L463.36 623.50 L466.46 623.55 L469.57 623.60 L472.67 623.64 L475.77 623.68 L478.87 623.72 L481.97 623.75 L485.07 623.78 L488.17 623.81 L491.28 623.84 L494.38 623.87 L497.48 623.89 L500.58 623.91 L503.68 623.94 L506.78 623.96 L509.88 623.97 L512.99 623.99 L516.09 624.01 L519.19 624.02 L522.29 624.04 L525.39 624.05 L528.49 624.06 L531.59 624.07 L534.70 624.08 L537.80 624.09 L540.90 624.10 L544.00 624.11" stroke="#70AD47" stroke-width="2.0" fill="none" stroke-linejoin="round"/>
<path d="M48.90 397.50 C65.95 415.11 89.50 439.43 109.80 460.40 L112.90 463.46 L116.00 466.50 L119.10 469.52 L122.20 472.52 L125.30 475.49 L128.41 478.44 L131.51 481.37 L134.61 484.27 L137.71 487.14 L140.81 489.99 L143.91 492.81 L147.01 495.60 L150.12 498.36 L153.22 501.10 L156.32 503.80 L159.42 506.47 L162.52 509.11 L165.62 511.72 L168.72 514.30 L171.83 516.85 L174.93 519.36 L178.03 521.84 L181.13 524.29 L184.23 526.70 L187.33 529.08 L190.43 531.43 L193.54 533.74 L196.64 536.01 L199.74 538.25 L202.84 540.45 L205.94 542.62 L209.04 544.76 L212.15 546.85 L215.25 548.91 L218.35 550.94 L221.45 552.93 L224.55 554.88 L227.65 556.80 L230.75 558.68 L233.86 560.53 L236.96 562.34 L240.06 564.12 L243.16 565.86 L246.26 567.56 L249.36 569.23 L252.46 570.87 L255.57 572.47 L258.67 574.03 L261.77 575.56 L264.87 577.06 L267.97 578.52 L271.07 579.95 L274.17 581.35 L277.28 582.71 L280.38 584.05 L283.48 585.35 L286.58 586.61 L289.68 587.85 L292.78 589.06 L295.88 590.23 L298.99 591.37 L302.09 592.49 L305.19 593.58 L308.29 594.63 L311.39 595.66 L314.49 596.66 L317.59 597.63 L320.70 598.58 L323.80 599.50 L326.90 600.39 L330.00 601.25 L333.10 602.10 L336.20 602.91 L339.30 603.70 L342.41 604.47 L345.51 605.22 L348.61 605.94 L351.71 606.64 L354.81 607.32 L357.91 607.97 L361.01 608.61 L364.12 609.22 L367.22 609.81 L370.32 610.39 L373.42 610.94 L376.52 611.48 L379.62 612.00 L382.72 612.50 L385.83 612.98 L388.93 613.45 L392.03 613.90 L395.13 614.34 L398.23 614.75 L401.33 615.16 L404.43 615.55 L407.54 615.92 L410.64 616.28 L413.74 616.63 L416.84 616.96 L419.94 617.28 L423.04 617.59 L426.14 617.89 L429.25 618.17 L432.35 618.45 L435.45 618.71 L438.55 618.97 L441.65 619.21 L444.75 619.44 L447.86 619.66 L450.96 619.88 L454.06 620.08 L457.16 620.28 L460.26 620.47 L463.36 620.65 L466.46 620.82 L469.57 620.99 L472.67 621.14 L475.77 621.30 L478.87 621.44 L481.97 621.58 L485.07 621.71 L488.17 621.84 L491.28 621.96 L494.38 622.07 L497.48 622.18 L500.58 622.28 L503.68 622.38 L506.78 622.48 L509.88 622.57 L512.99 622.66 L516.09 622.74 L519.19 622.82 L522.29 622.89 L525.39 622.96 L528.49 623.03 L531.59 623.09 L534.70 623.15 L537.80 623.21 L540.90 623.27 L544.00 623.32" stroke="#264478" stroke-width="2.0" fill="none" stroke-linejoin="round"/>
<path d="M48.90 397.50 C65.95 412.83 89.50 434.00 109.80 452.26 L112.90 454.95 L116.00 457.63 L119.10 460.30 L122.20 462.95 L125.30 465.59 L128.41 468.21 L131.51 470.82 L134.61 473.41 L137.71 475.98 L140.81 478.53 L143.91 481.06 L147.01 483.58 L150.12 486.07 L153.22 488.55 L156.32 491.01 L159.42 493.44 L162.52 495.85 L165.62 498.25 L168.72 500.62 L171.83 502.96 L174.93 505.29 L178.03 507.59 L181.13 509.87 L184.23 512.12 L187.33 514.35 L190.43 516.56 L193.54 518.74 L196.64 520.90 L199.74 523.03 L202.84 525.14 L205.94 527.22 L209.04 529.28 L212.15 531.31 L215.25 533.31 L218.35 535.29 L221.45 537.24 L224.55 539.16 L227.65 541.06 L230.75 542.93 L233.86 544.78 L236.96 546.60 L240.06 548.39 L243.16 550.15 L246.26 551.89 L249.36 553.60 L252.46 555.28 L255.57 556.94 L258.67 558.57 L261.77 560.17 L264.87 561.75 L267.97 563.30 L271.07 564.82 L274.17 566.32 L277.28 567.79 L280.38 569.23 L283.48 570.65 L286.58 572.04 L289.68 573.41 L292.78 574.75 L295.88 576.06 L298.99 577.35 L302.09 578.61 L305.19 579.85 L308.29 581.07 L311.39 582.26 L314.49 583.42 L317.59 584.56 L320.70 585.68 L323.80 586.77 L326.90 587.84 L330.00 588.88 L333.10 589.91 L336.20 590.91 L339.30 591.89 L342.41 592.84 L345.51 593.78 L348.61 594.69 L351.71 595.58 L354.81 596.45 L357.91 597.30 L361.01 598.12 L364.12 598.93 L367.22 599.72 L370.32 600.49 L373.42 601.24 L376.52 601.97 L379.62 602.68 L382.72 603.37 L385.83 604.05 L388.93 604.71 L392.03 605.35 L395.13 605.97 L398.23 606.58 L401.33 607.17 L404.43 607.74 L407.54 608.30 L410.64 608.84 L413.74 609.37 L416.84 609.88 L419.94 610.37 L423.04 610.86 L426.14 611.32 L429.25 611.78 L432.35 612.22 L435.45 612.65 L438.55 613.06 L441.65 613.47 L444.75 613.86 L447.86 614.24 L450.96 614.60 L454.06 614.96 L457.16 615.30 L460.26 615.63 L463.36 615.96 L466.46 616.27 L469.57 616.57 L472.67 616.86 L475.77 617.14 L478.87 617.42 L481.97 617.68 L485.07 617.94 L488.17 618.18 L491.28 618.42 L494.38 618.65 L497.48 618.87 L500.58 619.08 L503.68 619.29 L506.78 619.49 L509.88 619.68 L512.99 619.87 L516.09 620.05 L519.19 620.22 L522.29 620.38 L525.39 620.54 L528.49 620.70 L531.59 620.85 L534.70 620.99 L537.80 621.13 L540.90 621.26 L544.00 621.38" stroke="#9E480E" stroke-width="2.0" fill="none" stroke-linejoin="round"/>
<path d="M48.90 397.50 C65.95 411.26 89.50 430.25 109.80 446.63 L112.90 449.06 L116.00 451.49 L119.10 453.90 L122.20 456.31 L125.30 458.70 L128.41 461.08 L131.51 463.45 L134.61 465.81 L137.71 468.15 L140.81 470.48 L143.91 472.80 L147.01 475.10 L150.12 477.39 L153.22 479.67 L156.32 481.93 L159.42 484.17 L162.52 486.40 L165.62 488.62 L168.72 490.81 L171.83 492.99 L174.93 495.16 L178.03 497.30 L181.13 499.43 L184.23 501.54 L187.33 503.63 L190.43 505.71 L193.54 507.77 L196.64 509.80 L199.74 511.82 L202.84 513.82 L205.94 515.80 L209.04 517.76 L212.15 519.70 L215.25 521.62 L218.35 523.52 L221.45 525.40 L224.55 527.26 L227.65 529.10 L230.75 530.92 L233.86 532.72 L236.96 534.50 L240.06 536.25 L243.16 537.99 L246.26 539.70 L249.36 541.39 L252.46 543.06 L255.57 544.71 L258.67 546.34 L261.77 547.95 L264.87 549.53 L267.97 551.10 L271.07 552.64 L274.17 554.16 L277.28 555.66 L280.38 557.14 L283.48 558.59 L286.58 560.03 L289.68 561.44 L292.78 562.83 L295.88 564.20 L298.99 565.55 L302.09 566.88 L305.19 568.19 L308.29 569.48 L311.39 570.74 L314.49 571.99 L317.59 573.21 L320.70 574.41 L323.80 575.59 L326.90 576.76 L330.00 577.90 L333.10 579.02 L336.20 580.12 L339.30 581.20 L342.41 582.27 L345.51 583.31 L348.61 584.33 L351.71 585.34 L354.81 586.32 L357.91 587.29 L361.01 588.23 L364.12 589.16 L367.22 590.07 L370.32 590.97 L373.42 591.84 L376.52 592.70 L379.62 593.54 L382.72 594.36 L385.83 595.16 L388.93 595.95 L392.03 596.72 L395.13 597.48 L398.23 598.21 L401.33 598.94 L404.43 599.64 L407.54 600.33 L410.64 601.01 L413.74 601.67 L416.84 602.31 L419.94 602.94 L423.04 603.55 L426.14 604.16 L429.25 604.74 L432.35 605.31 L435.45 605.87 L438.55 606.42 L441.65 606.95 L444.75 607.47 L447.86 607.97 L450.96 608.47 L454.06 608.95 L457.16 609.42 L460.26 609.88 L463.36 610.32 L466.46 610.75 L469.57 611.18 L472.67 611.59 L475.77 611.99 L478.87 612.38 L481.97 612.76 L485.07 613.13 L488.17 613.49 L491.28 613.83 L494.38 614.17 L497.48 614.50 L500.58 614.83 L503.68 615.14 L506.78 615.44 L509.88 615.73 L512.99 616.02 L516.09 616.30 L519.19 616.57 L522.29 616.83 L525.39 617.08 L528.49 617.33 L531.59 617.57 L534.70 617.80 L537.80 618.02 L540.90 618.24 L544.00 618.45" stroke="#636363" stroke-width="2.0" fill="none" stroke-linejoin="round"/>
<path d="M48.90 397.50 C65.95 410.08 89.50 427.46 109.80 442.44 L112.90 444.68 L116.00 446.91 L119.10 449.13 L122.20 451.34 L125.30 453.55 L128.41 455.75 L131.51 457.93 L134.61 460.11 L137.71 462.28 L140.81 464.44 L143.91 466.58 L147.01 468.72 L150.12 470.85 L153.22 472.96 L156.32 475.06 L159.42 477.16 L162.52 479.23 L165.62 481.30 L168.72 483.35 L171.83 485.39 L174.93 487.42 L178.03 489.44 L181.13 491.44 L184.23 493.42 L187.33 495.40 L190.43 497.35 L193.54 499.30 L196.64 501.23 L199.74 503.14 L202.84 505.04 L205.94 506.92 L209.04 508.79 L212.15 510.64 L215.25 512.48 L218.35 514.30 L221.45 516.10 L224.55 517.89 L227.65 519.66 L230.75 521.41 L233.86 523.15 L236.96 524.87 L240.06 526.58 L243.16 528.26 L246.26 529.93 L249.36 531.59 L252.46 533.22 L255.57 534.84 L258.67 536.44 L261.77 538.02 L264.87 539.59 L267.97 541.13 L271.07 542.66 L274.17 544.17 L277.28 545.67 L280.38 547.14 L283.48 548.60 L286.58 550.04 L289.68 551.46 L292.78 552.87 L295.88 554.25 L298.99 555.62 L302.09 556.97 L305.19 558.30 L308.29 559.62 L311.39 560.92 L314.49 562.19 L317.59 563.46 L320.70 564.70 L323.80 565.92 L326.90 567.13 L330.00 568.32 L333.10 569.50 L336.20 570.65 L339.30 571.79 L342.41 572.91 L345.51 574.01 L348.61 575.10 L351.71 576.17 L354.81 577.22 L357.91 578.26 L361.01 579.28 L364.12 580.28 L367.22 581.27 L370.32 582.23 L373.42 583.19 L376.52 584.12 L379.62 585.05 L382.72 585.95 L385.83 586.84 L388.93 587.71 L392.03 588.57 L395.13 589.41 L398.23 590.24 L401.33 591.05 L404.43 591.85 L407.54 592.63 L410.64 593.40 L413.74 594.15 L416.84 594.89 L419.94 595.62 L423.04 596.33 L426.14 597.03 L429.25 597.71 L432.35 598.38 L435.45 599.04 L438.55 599.68 L441.65 600.31 L444.75 600.93 L447.86 601.53 L450.96 602.12 L454.06 602.70 L457.16 603.27 L460.26 603.82 L463.36 604.37 L466.46 604.90 L469.57 605.42 L472.67 605.93 L475.77 606.42 L478.87 606.91 L481.97 607.38 L485.07 607.85 L488.17 608.30 L491.28 608.75 L494.38 609.18 L497.48 609.60 L500.58 610.02 L503.68 610.42 L506.78 610.81 L509.88 611.20 L512.99 611.57 L516.09 611.94 L519.19 612.30 L522.29 612.65 L525.39 612.99 L528.49 613.32 L531.59 613.64 L534.70 613.96 L537.80 614.26 L540.90 614.56 L544.00 614.85" stroke="#997300" stroke-width="2.0" fill="none" stroke-linejoin="round"/>
<path d="M48.90 397.50 C65.95 409.17 89.50 425.28 109.80 439.17 L112.90 441.25 L116.00 443.33 L119.10 445.40 L122.20 447.46 L125.30 449.51 L128.41 451.56 L131.51 453.60 L134.61 455.64 L137.71 457.66 L140.81 459.68 L143.91 461.69 L147.01 463.69 L150.12 465.68 L153.22 467.67 L156.32 469.64 L159.42 471.60 L162.52 473.56 L165.62 475.50 L168.72 477.43 L171.83 479.36 L174.93 481.27 L178.03 483.17 L181.13 485.06 L184.23 486.94 L187.33 488.81 L190.43 490.67 L193.54 492.51 L196.64 494.34 L199.74 496.17 L202.84 497.97 L205.94 499.77 L209.04 501.55 L212.15 503.32 L215.25 505.08 L218.35 506.82 L221.45 508.55 L224.55 510.27 L227.65 511.97 L230.75 513.66 L233.86 515.34 L236.96 517.00 L240.06 518.65 L243.16 520.28 L246.26 521.90 L249.36 523.51 L252.46 525.10 L255.57 526.67 L258.67 528.24 L261.77 529.78 L264.87 531.31 L267.97 532.83 L271.07 534.33 L274.17 535.82 L277.28 537.29 L280.38 538.75 L283.48 540.19 L286.58 541.62 L289.68 543.03 L292.78 544.42 L295.88 545.81 L298.99 547.17 L302.09 548.52 L305.19 549.86 L308.29 551.17 L311.39 552.48 L314.49 553.77 L317.59 555.04 L320.70 556.30 L323.80 557.54 L326.90 558.77 L330.00 559.98 L333.10 561.18 L336.20 562.36 L339.30 563.52 L342.41 564.67 L345.51 565.81 L348.61 566.93 L351.71 568.04 L354.81 569.13 L357.91 570.20 L361.01 571.26 L364.12 572.31 L367.22 573.34 L370.32 574.36 L373.42 575.36 L376.52 576.34 L379.62 577.32 L382.72 578.27 L385.83 579.22 L388.93 580.15 L392.03 581.06 L395.13 581.96 L398.23 582.85 L401.33 583.72 L404.43 584.58 L407.54 585.43 L410.64 586.26 L413.74 587.08 L416.84 587.89 L419.94 588.68 L423.04 589.46 L426.14 590.22 L429.25 590.98 L432.35 591.72 L435.45 592.44 L438.55 593.16 L441.65 593.86 L444.75 594.55 L447.86 595.23 L450.96 595.89 L454.06 596.55 L457.16 597.19 L460.26 597.82 L463.36 598.44 L466.46 599.04 L469.57 599.64 L472.67 600.22 L475.77 600.80 L478.87 601.36 L481.97 601.91 L485.07 602.45 L488.17 602.98 L491.28 603.50 L494.38 604.01 L497.48 604.51 L500.58 605.00 L503.68 605.48 L506.78 605.95 L509.88 606.41 L512.99 606.86 L516.09 607.30 L519.19 607.73 L522.29 608.16 L525.39 608.57 L528.49 608.98 L531.59 609.37 L534.70 609.76 L537.80 610.14 L540.90 610.51 L544.00 610.87" stroke="#255E91" stroke-width="2.0" fill="none" stroke-linejoin="round"/>
<path d="M48.90 397.50 C65.95 408.43 89.50 423.51 109.80 436.52 L112.90 438.48 L116.00 440.42 L119.10 442.37 L122.20 444.31 L125.30 446.24 L128.41 448.17 L131.51 450.09 L134.61 452.00 L137.71 453.91 L140.81 455.81 L143.91 457.71 L147.01 459.59 L150.12 461.47 L153.22 463.35 L156.32 465.21 L159.42 467.07 L162.52 468.92 L165.62 470.76 L168.72 472.59 L171.83 474.41 L174.93 476.23 L178.03 478.03 L181.13 479.83 L184.23 481.62 L187.33 483.39 L190.43 485.16 L193.54 486.92 L196.64 488.67 L199.74 490.41 L202.84 492.13 L205.94 493.85 L209.04 495.56 L212.15 497.25 L215.25 498.94 L218.35 500.61 L221.45 502.27 L224.55 503.92 L227.65 505.56 L230.75 507.19 L233.86 508.81 L236.96 510.41 L240.06 512.01 L243.16 513.59 L246.26 515.16 L249.36 516.71 L252.46 518.26 L255.57 519.79 L258.67 521.31 L261.77 522.81 L264.87 524.31 L267.97 525.79 L271.07 527.26 L274.17 528.71 L277.28 530.16 L280.38 531.59 L283.48 533.00 L286.58 534.41 L289.68 535.80 L292.78 537.18 L295.88 538.54 L298.99 539.89 L302.09 541.23 L305.19 542.55 L308.29 543.87 L311.39 545.16 L314.49 546.45 L317.59 547.72 L320.70 548.98 L323.80 550.22 L326.90 551.45 L330.00 552.67 L333.10 553.87 L336.20 555.06 L339.30 556.24 L342.41 557.40 L345.51 558.55 L348.61 559.69 L351.71 560.81 L354.81 561.92 L357.91 563.02 L361.01 564.10 L364.12 565.17 L367.22 566.23 L370.32 567.27 L373.42 568.30 L376.52 569.32 L379.62 570.32 L382.72 571.31 L385.83 572.29 L388.93 573.26 L392.03 574.21 L395.13 575.15 L398.23 576.07 L401.33 576.99 L404.43 577.89 L407.54 578.78 L410.64 579.65 L413.74 580.52 L416.84 581.37 L419.94 582.21 L423.04 583.03 L426.14 583.85 L429.25 584.65 L432.35 585.44 L435.45 586.22 L438.55 586.99 L441.65 587.74 L444.75 588.49 L447.86 589.22 L450.96 589.94 L454.06 590.65 L457.16 591.35 L460.26 592.03 L463.36 592.71 L466.46 593.37 L469.57 594.03 L472.67 594.67 L475.77 595.30 L478.87 595.92 L481.97 596.53 L485.07 597.14 L488.17 597.73 L491.28 598.31 L494.38 598.88 L497.48 599.44 L500.58 599.99 L503.68 600.53 L506.78 601.06 L509.88 601.58 L512.99 602.09 L516.09 602.60 L519.19 603.09 L522.29 603.57 L525.39 604.05 L528.49 604.52 L531.59 604.98 L534.70 605.42 L537.80 605.87 L540.90 606.30 L544.00 606.72" stroke="#43682B" stroke-width="2.0" fill="none" stroke-linejoin="round"/>
<path d="M48.90 397.50 C65.95 407.81 89.50 422.05 109.80 434.32 L112.90 436.17 L116.00 438.01 L119.10 439.85 L122.20 441.69 L125.30 443.51 L128.41 445.34 L131.51 447.16 L134.61 448.97 L137.71 450.78 L140.81 452.59 L143.91 454.38 L147.01 456.17 L150.12 457.96 L153.22 459.74 L156.32 461.51 L159.42 463.28 L162.52 465.03 L165.62 466.79 L168.72 468.53 L171.83 470.27 L174.93 472.00 L178.03 473.72 L181.13 475.43 L184.23 477.14 L187.33 478.84 L190.43 480.53 L193.54 482.21 L196.64 483.88 L199.74 485.55 L202.84 487.20 L205.94 488.85 L209.04 490.49 L212.15 492.12 L215.25 493.74 L218.35 495.34 L221.45 496.94 L224.55 498.54 L227.65 500.12 L230.75 501.69 L233.86 503.25 L236.96 504.80 L240.06 506.34 L243.16 507.87 L246.26 509.39 L249.36 510.90 L252.46 512.40 L255.57 513.88 L258.67 515.36 L261.77 516.83 L264.87 518.28 L267.97 519.73 L271.07 521.16 L274.17 522.58 L277.28 523.99 L280.38 525.39 L283.48 526.78 L286.58 528.16 L289.68 529.52 L292.78 530.88 L295.88 532.22 L298.99 533.55 L302.09 534.87 L305.19 536.18 L308.29 537.47 L311.39 538.76 L314.49 540.03 L317.59 541.29 L320.70 542.54 L323.80 543.78 L326.90 545.00 L330.00 546.21 L333.10 547.41 L336.20 548.60 L339.30 549.78 L342.41 550.95 L345.51 552.10 L348.61 553.24 L351.71 554.37 L354.81 555.49 L357.91 556.59 L361.01 557.68 L364.12 558.77 L367.22 559.84 L370.32 560.89 L373.42 561.94 L376.52 562.97 L379.62 564.00 L382.72 565.01 L385.83 566.00 L388.93 566.99 L392.03 567.97 L395.13 568.93 L398.23 569.88 L401.33 570.82 L404.43 571.75 L407.54 572.67 L410.64 573.57 L413.74 574.47 L416.84 575.35 L419.94 576.22 L423.04 577.08 L426.14 577.93 L429.25 578.77 L432.35 579.59 L435.45 580.41 L438.55 581.21 L441.65 582.01 L444.75 582.79 L447.86 583.56 L450.96 584.32 L454.06 585.07 L457.16 585.81 L460.26 586.54 L463.36 587.26 L466.46 587.97 L469.57 588.67 L472.67 589.35 L475.77 590.03 L478.87 590.70 L481.97 591.36 L485.07 592.00 L488.17 592.64 L491.28 593.27 L494.38 593.89 L497.48 594.50 L500.58 595.10 L503.68 595.68 L506.78 596.27 L509.88 596.84 L512.99 597.40 L516.09 597.95 L519.19 598.49 L522.29 599.03 L525.39 599.56 L528.49 600.07 L531.59 600.58 L534.70 601.08 L537.80 601.57 L540.90 602.06 L544.00 602.53" stroke="#698ED0" stroke-width="2.0" fill="none" stroke-linejoin="round"/>
<path d="M48.90 397.50 C65.95 407.29 89.50 420.80 109.80 432.46 L112.90 434.21 L116.00 435.97 L119.10 437.72 L122.20 439.46 L125.30 441.20 L128.41 442.94 L131.51 444.67 L134.61 446.40 L137.71 448.12 L140.81 449.84 L143.91 451.55 L147.01 453.26 L150.12 454.97 L153.22 456.66 L156.32 458.36 L159.42 460.04 L162.52 461.72 L165.62 463.40 L168.72 465.06 L171.83 466.73 L174.93 468.38 L178.03 470.03 L181.13 471.67 L184.23 473.31 L187.33 474.94 L190.43 476.56 L193.54 478.17 L196.64 479.78 L199.74 481.38 L202.84 482.97 L205.94 484.55 L209.04 486.13 L212.15 487.70 L215.25 489.26 L218.35 490.81 L221.45 492.35 L224.55 493.89 L227.65 495.41 L230.75 496.93 L233.86 498.44 L236.96 499.94 L240.06 501.43 L243.16 502.91 L246.26 504.39 L249.36 505.85 L252.46 507.31 L255.57 508.75 L258.67 510.19 L261.77 511.62 L264.87 513.03 L267.97 514.44 L271.07 515.84 L274.17 517.23 L277.28 518.60 L280.38 519.97 L283.48 521.33 L286.58 522.68 L289.68 524.02 L292.78 525.34 L295.88 526.66 L298.99 527.97 L302.09 529.27 L305.19 530.55 L308.29 531.83 L311.39 533.10 L314.49 534.35 L317.59 535.60 L320.70 536.83 L323.80 538.06 L326.90 539.27 L330.00 540.47 L333.10 541.66 L336.20 542.84 L339.30 544.02 L342.41 545.18 L345.51 546.32 L348.61 547.46 L351.71 548.59 L354.81 549.71 L357.91 550.81 L361.01 551.91 L364.12 552.99 L367.22 554.07 L370.32 555.13 L373.42 556.18 L376.52 557.23 L379.62 558.26 L382.72 559.28 L385.83 560.29 L388.93 561.29 L392.03 562.27 L395.13 563.25 L398.23 564.22 L401.33 565.17 L404.43 566.12 L407.54 567.06 L410.64 567.98 L413.74 568.89 L416.84 569.80 L419.94 570.69 L423.04 571.57 L426.14 572.45 L429.25 573.31 L432.35 574.16 L435.45 575.00 L438.55 575.83 L441.65 576.65 L444.75 577.46 L447.86 578.26 L450.96 579.05 L454.06 579.84 L457.16 580.61 L460.26 581.37 L463.36 582.12 L466.46 582.86 L469.57 583.59 L472.67 584.31 L475.77 585.02 L478.87 585.73 L481.97 586.42 L485.07 587.10 L488.17 587.78 L491.28 588.44 L494.38 589.10 L497.48 589.75 L500.58 590.38 L503.68 591.01 L506.78 591.63 L509.88 592.24 L512.99 592.84 L516.09 593.44 L519.19 594.02 L522.29 594.60 L525.39 595.16 L528.49 595.72 L531.59 596.27 L534.70 596.81 L537.80 597.35 L540.90 597.87 L544.00 598.39" stroke="#F1975A" stroke-width="2.0" fill="none" stroke-linejoin="round"/>
<path d="M48.90 397.50 C65.95 406.84 89.50 419.73 109.80 430.85 L112.90 432.53 L116.00 434.20 L119.10 435.87 L122.20 437.54 L125.30 439.20 L128.41 440.87 L131.51 442.52 L134.61 444.18 L137.71 445.82 L140.81 447.47 L143.91 449.11 L147.01 450.75 L150.12 452.38 L153.22 454.00 L156.32 455.63 L159.42 457.24 L162.52 458.85 L165.62 460.46 L168.72 462.06 L171.83 463.66 L174.93 465.25 L178.03 466.83 L181.13 468.41 L184.23 469.98 L187.33 471.55 L190.43 473.11 L193.54 474.66 L196.64 476.21 L199.74 477.75 L202.84 479.28 L205.94 480.81 L209.04 482.33 L212.15 483.84 L215.25 485.35 L218.35 486.85 L221.45 488.34 L224.55 489.82 L227.65 491.30 L230.75 492.77 L233.86 494.23 L236.96 495.68 L240.06 497.13 L243.16 498.57 L246.26 500.00 L249.36 501.42 L252.46 502.83 L255.57 504.24 L258.67 505.64 L261.77 507.03 L264.87 508.41 L267.97 509.78 L271.07 511.14 L274.17 512.49 L277.28 513.84 L280.38 515.18 L283.48 516.51 L286.58 517.82 L289.68 519.13 L292.78 520.44 L295.88 521.73 L298.99 523.01 L302.09 524.28 L305.19 525.55 L308.29 526.80 L311.39 528.05 L314.49 529.29 L317.59 530.51 L320.70 531.73 L323.80 532.94 L326.90 534.14 L330.00 535.33 L333.10 536.51 L336.20 537.68 L339.30 538.84 L342.41 539.99 L345.51 541.13 L348.61 542.26 L351.71 543.38 L354.81 544.49 L357.91 545.59 L361.01 546.69 L364.12 547.77 L367.22 548.84 L370.32 549.90 L373.42 550.96 L376.52 552.00 L379.62 553.04 L382.72 554.06 L385.83 555.07 L388.93 556.08 L392.03 557.07 L395.13 558.06 L398.23 559.03 L401.33 560.00 L404.43 560.95 L407.54 561.90 L410.64 562.83 L413.74 563.76 L416.84 564.68 L419.94 565.58 L423.04 566.48 L426.14 567.37 L429.25 568.25 L432.35 569.12 L435.45 569.98 L438.55 570.83 L441.65 571.67 L444.75 572.50 L447.86 573.32 L450.96 574.13 L454.06 574.93 L457.16 575.73 L460.26 576.51 L463.36 577.29 L466.46 578.05 L469.57 578.81 L472.67 579.56 L475.77 580.29 L478.87 581.02 L481.97 581.74 L485.07 582.46 L488.17 583.16 L491.28 583.85 L494.38 584.54 L497.48 585.21 L500.58 585.88 L503.68 586.54 L506.78 587.19 L509.88 587.83 L512.99 588.47 L516.09 589.09 L519.19 589.71 L522.29 590.32 L525.39 590.92 L528.49 591.51 L531.59 592.09 L534.70 592.67 L537.80 593.24 L540.90 593.80 L544.00 594.35" stroke="#B7B7B7" stroke-width="2.0" fill="none" stroke-linejoin="round"/>
<path d="M48.90 397.50 C65.95 406.44 89.50 418.80 109.80 429.44 L112.90 431.05 L116.00 432.66 L119.10 434.26 L122.20 435.86 L125.30 437.46 L128.41 439.05 L131.51 440.64 L134.61 442.23 L137.71 443.81 L140.81 445.39 L143.91 446.97 L147.01 448.54 L150.12 450.11 L153.22 451.67 L156.32 453.23 L159.42 454.79 L162.52 456.34 L165.62 457.88 L168.72 459.42 L171.83 460.96 L174.93 462.49 L178.03 464.02 L181.13 465.54 L184.23 467.05 L187.33 468.57 L190.43 470.07 L193.54 471.57 L196.64 473.06 L199.74 474.55 L202.84 476.03 L205.94 477.51 L209.04 478.98 L212.15 480.44 L215.25 481.90 L218.35 483.35 L221.45 484.79 L224.55 486.23 L227.65 487.66 L230.75 489.09 L233.86 490.50 L236.96 491.92 L240.06 493.32 L243.16 494.72 L246.26 496.11 L249.36 497.49 L252.46 498.86 L255.57 500.23 L258.67 501.59 L261.77 502.94 L264.87 504.29 L267.97 505.63 L271.07 506.96 L274.17 508.28 L277.28 509.59 L280.38 510.90 L283.48 512.20 L286.58 513.49 L289.68 514.77 L292.78 516.04 L295.88 517.31 L298.99 518.57 L302.09 519.82 L305.19 521.06 L308.29 522.29 L311.39 523.52 L314.49 524.73 L317.59 525.94 L320.70 527.14 L323.80 528.33 L326.90 529.51 L330.00 530.69 L333.10 531.85 L336.20 533.01 L339.30 534.15 L342.41 535.29 L345.51 536.42 L348.61 537.54 L351.71 538.65 L354.81 539.76 L357.91 540.85 L361.01 541.94 L364.12 543.01 L367.22 544.08 L370.32 545.14 L373.42 546.19 L376.52 547.23 L379.62 548.26 L382.72 549.29 L385.83 550.30 L388.93 551.31 L392.03 552.30 L395.13 553.29 L398.23 554.27 L401.33 555.24 L404.43 556.20 L407.54 557.15 L410.64 558.09 L413.74 559.02 L416.84 559.95 L419.94 560.86 L423.04 561.77 L426.14 562.67 L429.25 563.56 L432.35 564.44 L435.45 565.31 L438.55 566.17 L441.65 567.02 L444.75 567.87 L447.86 568.70 L450.96 569.53 L454.06 570.35 L457.16 571.16 L460.26 571.96 L463.36 572.75 L466.46 573.54 L469.57 574.31 L472.67 575.08 L475.77 575.84 L478.87 576.59 L481.97 577.33 L485.07 578.06 L488.17 578.79 L491.28 579.50 L494.38 580.21 L497.48 580.91 L500.58 581.60 L503.68 582.28 L506.78 582.96 L509.88 583.63 L512.99 584.29 L516.09 584.94 L519.19 585.58 L522.29 586.21 L525.39 586.84 L528.49 587.46 L531.59 588.07 L534.70 588.68 L537.80 589.27 L540.90 589.86 L544.00 590.44" stroke="#FFCD33" stroke-width="2.0" fill="none" stroke-linejoin="round"/>
<path d="M48.90 397.50 C65.95 406.10 89.50 417.97 109.80 428.20 L112.90 429.75 L116.00 431.30 L119.10 432.84 L122.20 434.38 L125.30 435.92 L128.41 437.45 L131.51 438.98 L134.61 440.51 L137.71 442.03 L140.81 443.56 L143.91 445.08 L147.01 446.59 L150.12 448.10 L153.22 449.61 L156.32 451.11 L159.42 452.61 L162.52 454.11 L165.62 455.60 L168.72 457.09 L171.83 458.57 L174.93 460.05 L178.03 461.52 L181.13 462.99 L184.23 464.46 L187.33 465.92 L190.43 467.37 L193.54 468.82 L196.64 470.27 L199.74 471.71 L202.84 473.14 L205.94 474.57 L209.04 475.99 L212.15 477.41 L215.25 478.82 L218.35 480.23 L221.45 481.63 L224.55 483.03 L227.65 484.42 L230.75 485.80 L233.86 487.18 L236.96 488.55 L240.06 489.91 L243.16 491.27 L246.26 492.62 L249.36 493.97 L252.46 495.31 L255.57 496.64 L258.67 497.97 L261.77 499.28 L264.87 500.60 L267.97 501.90 L271.07 503.20 L274.17 504.49 L277.28 505.77 L280.38 507.05 L283.48 508.32 L286.58 509.58 L289.68 510.84 L292.78 512.09 L295.88 513.33 L298.99 514.56 L302.09 515.79 L305.19 517.01 L308.29 518.22 L311.39 519.42 L314.49 520.61 L317.59 521.80 L320.70 522.98 L323.80 524.15 L326.90 525.32 L330.00 526.47 L333.10 527.62 L336.20 528.76 L339.30 529.90 L342.41 531.02 L345.51 532.14 L348.61 533.25 L351.71 534.35 L354.81 535.44 L357.91 536.52 L361.01 537.60 L364.12 538.67 L367.22 539.73 L370.32 540.78 L373.42 541.82 L376.52 542.86 L379.62 543.89 L382.72 544.91 L385.83 545.92 L388.93 546.92 L392.03 547.91 L395.13 548.90 L398.23 549.88 L401.33 550.85 L404.43 551.81 L407.54 552.76 L410.64 553.71 L413.74 554.64 L416.84 555.57 L419.94 556.49 L423.04 557.40 L426.14 558.30 L429.25 559.20 L432.35 560.09 L435.45 560.96 L438.55 561.83 L441.65 562.70 L444.75 563.55 L447.86 564.40 L450.96 565.23 L454.06 566.06 L457.16 566.88 L460.26 567.70 L463.36 568.50 L466.46 569.30 L469.57 570.09 L472.67 570.87 L475.77 571.64 L478.87 572.41 L481.97 573.16 L485.07 573.91 L488.17 574.65 L491.28 575.39 L494.38 576.11 L497.48 576.83 L500.58 577.54 L503.68 578.24 L506.78 578.94 L509.88 579.62 L512.99 580.30 L516.09 580.97 L519.19 581.64 L522.29 582.29 L525.39 582.94 L528.49 583.58 L531.59 584.22 L534.70 584.84 L537.80 585.46 L540.90 586.07 L544.00 586.68" stroke="#7CAFDD" stroke-width="2.0" fill="none" stroke-linejoin="round"/>
<path d="M48.90 397.50 C65.95 405.79 89.50 417.23 109.80 427.10 L112.90 428.59 L116.00 430.08 L119.10 431.57 L122.20 433.06 L125.30 434.54 L128.41 436.02 L131.51 437.50 L134.61 438.97 L137.71 440.45 L140.81 441.92 L143.91 443.38 L147.01 444.85 L150.12 446.31 L153.22 447.76 L156.32 449.22 L159.42 450.67 L162.52 452.11 L165.62 453.56 L168.72 455.00 L171.83 456.43 L174.93 457.86 L178.03 459.29 L181.13 460.71 L184.23 462.13 L187.33 463.54 L190.43 464.95 L193.54 466.36 L196.64 467.76 L199.74 469.16 L202.84 470.55 L205.94 471.93 L209.04 473.32 L212.15 474.69 L215.25 476.06 L218.35 477.43 L221.45 478.79 L224.55 480.15 L227.65 481.50 L230.75 482.84 L233.86 484.18 L236.96 485.52 L240.06 486.84 L243.16 488.17 L246.26 489.48 L249.36 490.79 L252.46 492.10 L255.57 493.40 L258.67 494.69 L261.77 495.98 L264.87 497.26 L267.97 498.53 L271.07 499.80 L274.17 501.06 L277.28 502.32 L280.38 503.57 L283.48 504.81 L286.58 506.05 L289.68 507.28 L292.78 508.50 L295.88 509.71 L298.99 510.92 L302.09 512.13 L305.19 513.32 L308.29 514.51 L311.39 515.69 L314.49 516.87 L317.59 518.03 L320.70 519.19 L323.80 520.35 L326.90 521.49 L330.00 522.63 L333.10 523.76 L336.20 524.89 L339.30 526.01 L342.41 527.12 L345.51 528.22 L348.61 529.31 L351.71 530.40 L354.81 531.48 L357.91 532.56 L361.01 533.62 L364.12 534.68 L367.22 535.73 L370.32 536.77 L373.42 537.81 L376.52 538.84 L379.62 539.86 L382.72 540.87 L385.83 541.87 L388.93 542.87 L392.03 543.86 L395.13 544.84 L398.23 545.82 L401.33 546.79 L404.43 547.75 L407.54 548.70 L410.64 549.64 L413.74 550.58 L416.84 551.51 L419.94 552.43 L423.04 553.34 L426.14 554.25 L429.25 555.14 L432.35 556.03 L435.45 556.92 L438.55 557.79 L441.65 558.66 L444.75 559.52 L447.86 560.37 L450.96 561.21 L454.06 562.05 L457.16 562.88 L460.26 563.70 L463.36 564.51 L466.46 565.32 L469.57 566.12 L472.67 566.91 L475.77 567.69 L478.87 568.47 L481.97 569.24 L485.07 570.00 L488.17 570.75 L491.28 571.50 L494.38 572.24 L497.48 572.97 L500.58 573.69 L503.68 574.41 L506.78 575.12 L509.88 575.82 L512.99 576.51 L516.09 577.20 L519.19 577.88 L522.29 578.55 L525.39 579.22 L528.49 579.88 L531.59 580.53 L534.70 581.17 L537.80 581.81 L540.90 582.44 L544.00 583.07" stroke="#8CC168" stroke-width="2.0" fill="none" stroke-linejoin="round"/>
<path d="M48.90 397.50 C65.95 405.51 89.50 416.57 109.80 426.10 L112.90 427.55 L116.00 428.99 L119.10 430.43 L122.20 431.86 L125.30 433.30 L128.41 434.73 L131.51 436.16 L134.61 437.59 L137.71 439.02 L140.81 440.44 L143.91 441.86 L147.01 443.28 L150.12 444.69 L153.22 446.10 L156.32 447.51 L159.42 448.91 L162.52 450.32 L165.62 451.71 L168.72 453.11 L171.83 454.50 L174.93 455.89 L178.03 457.27 L181.13 458.65 L184.23 460.03 L187.33 461.40 L190.43 462.77 L193.54 464.13 L196.64 465.50 L199.74 466.85 L202.84 468.20 L205.94 469.55 L209.04 470.89 L212.15 472.23 L215.25 473.57 L218.35 474.89 L221.45 476.22 L224.55 477.54 L227.65 478.85 L230.75 480.16 L233.86 481.47 L236.96 482.77 L240.06 484.06 L243.16 485.35 L246.26 486.64 L249.36 487.91 L252.46 489.19 L255.57 490.46 L258.67 491.72 L261.77 492.97 L264.87 494.23 L267.97 495.47 L271.07 496.71 L274.17 497.94 L277.28 499.17 L280.38 500.39 L283.48 501.61 L286.58 502.82 L289.68 504.03 L292.78 505.22 L295.88 506.42 L298.99 507.60 L302.09 508.78 L305.19 509.95 L308.29 511.12 L311.39 512.28 L314.49 513.44 L317.59 514.58 L320.70 515.72 L323.80 516.86 L326.90 517.99 L330.00 519.11 L333.10 520.22 L336.20 521.33 L339.30 522.43 L342.41 523.53 L345.51 524.62 L348.61 525.70 L351.71 526.77 L354.81 527.84 L357.91 528.90 L361.01 529.95 L364.12 531.00 L367.22 532.04 L370.32 533.07 L373.42 534.10 L376.52 535.12 L379.62 536.13 L382.72 537.14 L385.83 538.13 L388.93 539.13 L392.03 540.11 L395.13 541.09 L398.23 542.06 L401.33 543.02 L404.43 543.97 L407.54 544.92 L410.64 545.86 L413.74 546.80 L416.84 547.72 L419.94 548.64 L423.04 549.56 L426.14 550.46 L429.25 551.36 L432.35 552.25 L435.45 553.13 L438.55 554.01 L441.65 554.88 L444.75 555.74 L447.86 556.60 L450.96 557.45 L454.06 558.29 L457.16 559.12 L460.26 559.95 L463.36 560.77 L466.46 561.58 L469.57 562.38 L472.67 563.18 L475.77 563.97 L478.87 564.76 L481.97 565.53 L485.07 566.30 L488.17 567.06 L491.28 567.82 L494.38 568.57 L497.48 569.31 L500.58 570.04 L503.68 570.77 L506.78 571.49 L509.88 572.21 L512.99 572.91 L516.09 573.61 L519.19 574.31 L522.29 574.99 L525.39 575.67 L528.49 576.34 L531.59 577.01 L534.70 577.67 L537.80 578.32 L540.90 578.97 L544.00 579.61" stroke="#335AA1" stroke-width="2.0" fill="none" stroke-linejoin="round"/>
<path d="M48.90 397.50 C65.95 405.26 89.50 415.97 109.80 425.20 L112.90 426.60 L116.00 428.00 L119.10 429.39 L122.20 430.79 L125.30 432.18 L128.41 433.57 L131.51 434.95 L134.61 436.34 L137.71 437.72 L140.81 439.10 L143.91 440.48 L147.01 441.85 L150.12 443.22 L153.22 444.59 L156.32 445.96 L159.42 447.32 L162.52 448.69 L165.62 450.04 L168.72 451.40 L171.83 452.75 L174.93 454.10 L178.03 455.44 L181.13 456.78 L184.23 458.12 L187.33 459.46 L190.43 460.79 L193.54 462.11 L196.64 463.44 L199.74 464.76 L202.84 466.07 L205.94 467.38 L209.04 468.69 L212.15 469.99 L215.25 471.29 L218.35 472.59 L221.45 473.88 L224.55 475.16 L227.65 476.44 L230.75 477.72 L233.86 478.99 L236.96 480.26 L240.06 481.52 L243.16 482.78 L246.26 484.04 L249.36 485.28 L252.46 486.53 L255.57 487.77 L258.67 489.00 L261.77 490.23 L264.87 491.45 L267.97 492.67 L271.07 493.88 L274.17 495.09 L277.28 496.29 L280.38 497.49 L283.48 498.68 L286.58 499.87 L289.68 501.05 L292.78 502.22 L295.88 503.39 L298.99 504.55 L302.09 505.71 L305.19 506.86 L308.29 508.01 L311.39 509.15 L314.49 510.28 L317.59 511.41 L320.70 512.53 L323.80 513.65 L326.90 514.76 L330.00 515.86 L333.10 516.96 L336.20 518.05 L339.30 519.14 L342.41 520.22 L345.51 521.29 L348.61 522.36 L351.71 523.42 L354.81 524.47 L357.91 525.52 L361.01 526.56 L364.12 527.60 L367.22 528.63 L370.32 529.65 L373.42 530.66 L376.52 531.67 L379.62 532.68 L382.72 533.67 L385.83 534.66 L388.93 535.65 L392.03 536.62 L395.13 537.59 L398.23 538.55 L401.33 539.51 L404.43 540.46 L407.54 541.40 L410.64 542.34 L413.74 543.27 L416.84 544.19 L419.94 545.11 L423.04 546.02 L426.14 546.92 L429.25 547.82 L432.35 548.71 L435.45 549.59 L438.55 550.47 L441.65 551.34 L444.75 552.20 L447.86 553.06 L450.96 553.91 L454.06 554.75 L457.16 555.59 L460.26 556.42 L463.36 557.24 L466.46 558.06 L469.57 558.86 L472.67 559.67 L475.77 560.46 L478.87 561.25 L481.97 562.03 L485.07 562.81 L488.17 563.58 L491.28 564.34 L494.38 565.10 L497.48 565.85 L500.58 566.59 L503.68 567.32 L506.78 568.05 L509.88 568.78 L512.99 569.49 L516.09 570.20 L519.19 570.91 L522.29 571.60 L525.39 572.29 L528.49 572.98 L531.59 573.65 L534.70 574.32 L537.80 574.99 L540.90 575.65 L544.00 576.30" stroke="#D26012" stroke-width="2.0" fill="none" stroke-linejoin="round"/>
<path d="M48.90 397.50 C65.95 405.03 89.50 415.42 109.80 424.38 L112.90 425.74 L116.00 427.09 L119.10 428.45 L122.20 429.80 L125.30 431.15 L128.41 432.50 L131.51 433.85 L134.61 435.20 L137.71 436.54 L140.81 437.88 L143.91 439.22 L147.01 440.55 L150.12 441.89 L153.22 443.22 L156.32 444.55 L159.42 445.87 L162.52 447.20 L165.62 448.52 L168.72 449.83 L171.83 451.15 L174.93 452.46 L178.03 453.77 L181.13 455.08 L184.23 456.38 L187.33 457.68 L190.43 458.97 L193.54 460.26 L196.64 461.55 L199.74 462.84 L202.84 464.12 L205.94 465.40 L209.04 466.67 L212.15 467.94 L215.25 469.21 L218.35 470.47 L221.45 471.73 L224.55 472.99 L227.65 474.24 L230.75 475.48 L233.86 476.72 L236.96 477.96 L240.06 479.20 L243.16 480.42 L246.26 481.65 L249.36 482.87 L252.46 484.09 L255.57 485.30 L258.67 486.50 L261.77 487.71 L264.87 488.90 L267.97 490.09 L271.07 491.28 L274.17 492.46 L277.28 493.64 L280.38 494.81 L283.48 495.98 L286.58 497.14 L289.68 498.30 L292.78 499.45 L295.88 500.60 L298.99 501.74 L302.09 502.88 L305.19 504.01 L308.29 505.14 L311.39 506.26 L314.49 507.37 L317.59 508.48 L320.70 509.58 L323.80 510.68 L326.90 511.77 L330.00 512.86 L333.10 513.94 L336.20 515.02 L339.30 516.09 L342.41 517.15 L345.51 518.21 L348.61 519.26 L351.71 520.31 L354.81 521.35 L357.91 522.38 L361.01 523.41 L364.12 524.44 L367.22 525.45 L370.32 526.46 L373.42 527.47 L376.52 528.47 L379.62 529.46 L382.72 530.45 L385.83 531.43 L388.93 532.40 L392.03 533.37 L395.13 534.33 L398.23 535.29 L401.33 536.24 L404.43 537.18 L407.54 538.12 L410.64 539.05 L413.74 539.98 L416.84 540.89 L419.94 541.81 L423.04 542.71 L426.14 543.61 L429.25 544.51 L432.35 545.39 L435.45 546.27 L438.55 547.15 L441.65 548.02 L444.75 548.88 L447.86 549.73 L450.96 550.58 L454.06 551.43 L457.16 552.26 L460.26 553.09 L463.36 553.92 L466.46 554.73 L469.57 555.55 L472.67 556.35 L475.77 557.15 L478.87 557.94 L481.97 558.73 L485.07 559.51 L488.17 560.28 L491.28 561.05 L494.38 561.81 L497.48 562.56 L500.58 563.31 L503.68 564.05 L506.78 564.79 L509.88 565.52 L512.99 566.24 L516.09 566.96 L519.19 567.67 L522.29 568.37 L525.39 569.07 L528.49 569.77 L531.59 570.45 L534.70 571.13 L537.80 571.81 L540.90 572.47 L544.00 573.14" stroke="#848484" stroke-width="2.0" fill="none" stroke-linejoin="round"/>
<path d="M48.90 397.50 C65.95 404.82 89.50 414.92 109.80 423.63 L112.90 424.95 L116.00 426.27 L119.10 427.59 L122.20 428.90 L125.30 430.22 L128.41 431.53 L131.51 432.84 L134.61 434.15 L137.71 435.46 L140.81 436.76 L143.91 438.06 L147.01 439.36 L150.12 440.66 L153.22 441.96 L156.32 443.25 L159.42 444.54 L162.52 445.83 L165.62 447.12 L168.72 448.40 L171.83 449.68 L174.93 450.96 L178.03 452.23 L181.13 453.51 L184.23 454.78 L187.33 456.04 L190.43 457.31 L193.54 458.57 L196.64 459.82 L199.74 461.08 L202.84 462.33 L205.94 463.57 L209.04 464.82 L212.15 466.06 L215.25 467.29 L218.35 468.53 L221.45 469.76 L224.55 470.98 L227.65 472.20 L230.75 473.42 L233.86 474.63 L236.96 475.84 L240.06 477.05 L243.16 478.25 L246.26 479.45 L249.36 480.64 L252.46 481.83 L255.57 483.02 L258.67 484.20 L261.77 485.38 L264.87 486.55 L267.97 487.72 L271.07 488.88 L274.17 490.04 L277.28 491.19 L280.38 492.34 L283.48 493.49 L286.58 494.63 L289.68 495.76 L292.78 496.89 L295.88 498.02 L298.99 499.14 L302.09 500.26 L305.19 501.37 L308.29 502.47 L311.39 503.58 L314.49 504.67 L317.59 505.76 L320.70 506.85 L323.80 507.93 L326.90 509.00 L330.00 510.07 L333.10 511.14 L336.20 512.20 L339.30 513.25 L342.41 514.30 L345.51 515.35 L348.61 516.38 L351.71 517.42 L354.81 518.44 L357.91 519.46 L361.01 520.48 L364.12 521.49 L367.22 522.50 L370.32 523.50 L373.42 524.49 L376.52 525.48 L379.62 526.46 L382.72 527.44 L385.83 528.41 L388.93 529.37 L392.03 530.33 L395.13 531.29 L398.23 532.23 L401.33 533.18 L404.43 534.11 L407.54 535.04 L410.64 535.97 L413.74 536.89 L416.84 537.80 L419.94 538.71 L423.04 539.61 L426.14 540.50 L429.25 541.39 L432.35 542.28 L435.45 543.15 L438.55 544.02 L441.65 544.89 L444.75 545.75 L447.86 546.60 L450.96 547.45 L454.06 548.29 L457.16 549.13 L460.26 549.96 L463.36 550.78 L466.46 551.60 L469.57 552.41 L472.67 553.22 L475.77 554.02 L478.87 554.81 L481.97 555.60 L485.07 556.38 L488.17 557.16 L491.28 557.93 L494.38 558.69 L497.48 559.45 L500.58 560.20 L503.68 560.95 L506.78 561.69 L509.88 562.42 L512.99 563.15 L516.09 563.87 L519.19 564.59 L522.29 565.30 L525.39 566.01 L528.49 566.70 L531.59 567.40 L534.70 568.08 L537.80 568.77 L540.90 569.44 L544.00 570.11" stroke="#CC9A00" stroke-width="2.0" fill="none" stroke-linejoin="round"/>
<path d="M48.90 397.50 C65.95 404.62 89.50 414.46 109.80 422.94 L112.90 424.22 L116.00 425.51 L119.10 426.79 L122.20 428.07 L125.30 429.35 L128.41 430.63 L131.51 431.91 L134.61 433.18 L137.71 434.46 L140.81 435.73 L143.91 437.00 L147.01 438.27 L150.12 439.53 L153.22 440.79 L156.32 442.06 L159.42 443.32 L162.52 444.57 L165.62 445.83 L168.72 447.08 L171.83 448.33 L174.93 449.57 L178.03 450.82 L181.13 452.06 L184.23 453.30 L187.33 454.53 L190.43 455.77 L193.54 457.00 L196.64 458.23 L199.74 459.45 L202.84 460.67 L205.94 461.89 L209.04 463.10 L212.15 464.32 L215.25 465.52 L218.35 466.73 L221.45 467.93 L224.55 469.13 L227.65 470.32 L230.75 471.51 L233.86 472.70 L236.96 473.89 L240.06 475.07 L243.16 476.24 L246.26 477.42 L249.36 478.58 L252.46 479.75 L255.57 480.91 L258.67 482.07 L261.77 483.22 L264.87 484.37 L267.97 485.51 L271.07 486.65 L274.17 487.79 L277.28 488.92 L280.38 490.05 L283.48 491.17 L286.58 492.29 L289.68 493.41 L292.78 494.52 L295.88 495.62 L298.99 496.72 L302.09 497.82 L305.19 498.91 L308.29 500.00 L311.39 501.08 L314.49 502.16 L317.59 503.23 L320.70 504.30 L323.80 505.37 L326.90 506.42 L330.00 507.48 L333.10 508.53 L336.20 509.57 L339.30 510.61 L342.41 511.64 L345.51 512.67 L348.61 513.70 L351.71 514.72 L354.81 515.73 L357.91 516.74 L361.01 517.74 L364.12 518.74 L367.22 519.73 L370.32 520.72 L373.42 521.70 L376.52 522.68 L379.62 523.65 L382.72 524.62 L385.83 525.58 L388.93 526.53 L392.03 527.48 L395.13 528.43 L398.23 529.37 L401.33 530.30 L404.43 531.23 L407.54 532.15 L410.64 533.07 L413.74 533.98 L416.84 534.89 L419.94 535.79 L423.04 536.69 L426.14 537.58 L429.25 538.46 L432.35 539.34 L435.45 540.21 L438.55 541.08 L441.65 541.94 L444.75 542.80 L447.86 543.65 L450.96 544.49 L454.06 545.33 L457.16 546.17 L460.26 547.00 L463.36 547.82 L466.46 548.64 L469.57 549.45 L472.67 550.25 L475.77 551.05 L478.87 551.85 L481.97 552.63 L485.07 553.42 L488.17 554.19 L491.28 554.97 L494.38 555.73 L497.48 556.49 L500.58 557.25 L503.68 558.00 L506.78 558.74 L509.88 559.48 L512.99 560.21 L516.09 560.93 L519.19 561.66 L522.29 562.37 L525.39 563.08 L528.49 563.78 L531.59 564.48 L534.70 565.17 L537.80 565.86 L540.90 566.54 L544.00 567.22" stroke="#327DC2" stroke-width="2.0" fill="none" stroke-linejoin="round"/>
<path d="M48.90 397.50 C65.95 404.44 89.50 414.03 109.80 422.30 L112.90 423.55 L116.00 424.80 L119.10 426.06 L122.20 427.31 L125.30 428.55 L128.41 429.80 L131.51 431.05 L134.61 432.29 L137.71 433.53 L140.81 434.77 L143.91 436.01 L147.01 437.25 L150.12 438.49 L153.22 439.72 L156.32 440.95 L159.42 442.18 L162.52 443.41 L165.62 444.63 L168.72 445.85 L171.83 447.07 L174.93 448.29 L178.03 449.51 L181.13 450.72 L184.23 451.93 L187.33 453.14 L190.43 454.34 L193.54 455.54 L196.64 456.74 L199.74 457.94 L202.84 459.14 L205.94 460.33 L209.04 461.51 L212.15 462.70 L215.25 463.88 L218.35 465.06 L221.45 466.24 L224.55 467.41 L227.65 468.58 L230.75 469.74 L233.86 470.91 L236.96 472.07 L240.06 473.22 L243.16 474.37 L246.26 475.52 L249.36 476.67 L252.46 477.81 L255.57 478.95 L258.67 480.08 L261.77 481.21 L264.87 482.34 L267.97 483.46 L271.07 484.58 L274.17 485.70 L277.28 486.81 L280.38 487.92 L283.48 489.02 L286.58 490.12 L289.68 491.21 L292.78 492.30 L295.88 493.39 L298.99 494.47 L302.09 495.55 L305.19 496.62 L308.29 497.69 L311.39 498.76 L314.49 499.82 L317.59 500.87 L320.70 501.93 L323.80 502.97 L326.90 504.01 L330.00 505.05 L333.10 506.09 L336.20 507.11 L339.30 508.14 L342.41 509.16 L345.51 510.17 L348.61 511.18 L351.71 512.19 L354.81 513.19 L357.91 514.18 L361.01 515.17 L364.12 516.16 L367.22 517.14 L370.32 518.12 L373.42 519.09 L376.52 520.05 L379.62 521.02 L382.72 521.97 L385.83 522.92 L388.93 523.87 L392.03 524.81 L395.13 525.74 L398.23 526.68 L401.33 527.60 L404.43 528.52 L407.54 529.44 L410.64 530.35 L413.74 531.25 L416.84 532.15 L419.94 533.05 L423.04 533.93 L426.14 534.82 L429.25 535.70 L432.35 536.57 L435.45 537.44 L438.55 538.30 L441.65 539.16 L444.75 540.01 L447.86 540.86 L450.96 541.70 L454.06 542.54 L457.16 543.37 L460.26 544.19 L463.36 545.01 L466.46 545.83 L469.57 546.64 L472.67 547.44 L475.77 548.24 L478.87 549.03 L481.97 549.82 L485.07 550.60 L488.17 551.38 L491.28 552.15 L494.38 552.92 L497.48 553.68 L500.58 554.44 L503.68 555.19 L506.78 555.93 L509.88 556.67 L512.99 557.41 L516.09 558.13 L519.19 558.86 L522.29 559.58 L525.39 560.29 L528.49 561.00 L531.59 561.70 L534.70 562.39 L537.80 563.09 L540.90 563.77 L544.00 564.45" stroke="#5A8A39" stroke-width="2.0" fill="none" stroke-linejoin="round"/>
<text x="39.00" y="400.30" font-size="9.60" font-weight="bold" text-anchor="end">1</text>
<text x="39.00" y="422.97" font-size="9.60" font-weight="bold" text-anchor="end">0.9</text>
<text x="39.00" y="445.64" font-size="9.60" font-weight="bold" text-anchor="end">0.8</text>
<text x="39.00" y="468.31" font-size="9.60" font-weight="bold" text-anchor="end">0.7</text>
<text x="39.00" y="490.98" font-size="9.60" font-weight="bold" text-anchor="end">0.6</text>
<text x="39.00" y="513.65" font-size="9.60" font-weight="bold" text-anchor="end">0.5</text>
<text x="39.00" y="536.32" font-size="9.60" font-weight="bold" text-anchor="end">0.4</text>
<text x="39.00" y="558.99" font-size="9.60" font-weight="bold" text-anchor="end">0.3</text>
<text x="39.00" y="581.66" font-size="9.60" font-weight="bold" text-anchor="end">0.2</text>
<text x="39.00" y="604.33" font-size="9.60" font-weight="bold" text-anchor="end">0.1</text>
<text x="39.00" y="627.00" font-size="9.60" font-weight="bold" text-anchor="end">0</text>
<text x="48.90" y="641.60" font-size="9.60" font-weight="bold" text-anchor="middle">0</text>
<text x="98.41" y="641.60" font-size="9.60" font-weight="bold" text-anchor="middle">0.5</text>
<text x="147.92" y="641.60" font-size="9.60" font-weight="bold" text-anchor="middle">1</text>
<text x="197.43" y="641.60" font-size="9.60" font-weight="bold" text-anchor="middle">1.5</text>
<text x="246.94" y="641.60" font-size="9.60" font-weight="bold" text-anchor="middle">2</text>
<text x="296.45" y="641.60" font-size="9.60" font-weight="bold" text-anchor="middle">2.5</text>
<text x="345.96" y="641.60" font-size="9.60" font-weight="bold" text-anchor="middle">3</text>
<text x="395.47" y="641.60" font-size="9.60" font-weight="bold" text-anchor="middle">3.5</text>
<text x="444.98" y="641.60" font-size="9.60" font-weight="bold" text-anchor="middle">4</text>
<text x="494.49" y="641.60" font-size="9.60" font-weight="bold" text-anchor="middle">4.5</text>
<text x="544.00" y="641.60" font-size="9.60" font-weight="bold" text-anchor="middle">5</text>
<text x="233.90" y="658.00" font-size="9.60" font-weight="bold" text-anchor="start" textLength="125.5" lengthAdjust="spacingAndGlyphs">Non-Dimensional Distance</text>
<g transform="translate(20.0,510.8) rotate(-90)"><text x="0.00" y="0.00" font-size="10.70" font-weight="bold" text-anchor="middle" textLength="208.0" lengthAdjust="spacingAndGlyphs">Normalized Pressure Change, &#916;<tspan font-style="italic">P</tspan>(x,t)/|&#916;<tspan font-style="italic">P</tspan><tspan font-size="7.5" dy="2">0</tspan><tspan dy="-2">|</tspan></text></g>
<line x1="125.70" y1="624.50" x2="127.50" y2="426.70" stroke="#000" stroke-width="2.40" stroke-dasharray="8.7 7.4 2 7.3" stroke-dashoffset="0.0"/><path d="M124.40 427.20L130.60 427.20L127.50 420.90Z" fill="#000"/>
<line x1="218.00" y1="624.50" x2="217.60" y2="451.40" stroke="#000" stroke-width="2.40" stroke-dasharray="8.7 7.4 2 7.3" stroke-dashoffset="0.0"/><path d="M214.50 451.90L220.70 451.90L217.60 445.60Z" fill="#000"/>
<line x1="316.00" y1="624.50" x2="316.00" y2="490.10" stroke="#000" stroke-width="2.40" stroke-dasharray="8.7 7.4 2 7.3" stroke-dashoffset="0.0"/><path d="M312.90 490.60L319.10 490.60L316.00 484.30Z" fill="#000"/>
<line x1="412.70" y1="624.50" x2="413.00" y2="524.00" stroke="#000" stroke-width="2.40" stroke-dasharray="8.7 7.4 2 7.3" stroke-dashoffset="0.0"/><path d="M409.90 524.50L416.10 524.50L413.00 518.20Z" fill="#000"/>
<line x1="515.80" y1="624.50" x2="515.90" y2="550.60" stroke="#000" stroke-width="2.40" stroke-dasharray="8.7 7.4 2 7.3" stroke-dashoffset="0.0"/><path d="M512.80 551.10L519.00 551.10L515.90 544.80Z" fill="#000"/>
<rect x="242.5" y="406" width="297.3" height="66" fill="#fff" stroke="#666" stroke-width="1"/>
<text x="250.00" y="425.70" font-size="11.90" font-weight="normal" text-anchor="start" textLength="164.0" lengthAdjust="spacingAndGlyphs">Normalized pressure changes,</text>
<text x="434.00" y="417.80" font-size="9.20" font-weight="normal" text-anchor="middle" textLength="33.0" lengthAdjust="spacingAndGlyphs" style="font-family:'Liberation Serif',serif">&#916;<tspan font-style="italic">P</tspan>(<tspan font-style="italic">x,t</tspan>)</text>
<line x1="417.5" y1="419.8" x2="451" y2="419.8" stroke="#000" stroke-width="0.6"/>
<text x="433.80" y="431.60" font-size="7.20" font-weight="normal" text-anchor="middle" textLength="21.5" lengthAdjust="spacingAndGlyphs" style="font-family:'Liberation Serif',serif">|&#916;<tspan font-style="italic">P</tspan><tspan font-size="5.5" dy="0.8">0</tspan><tspan dy="-0.8">|</tspan></text>
<text x="453.50" y="425.70" font-size="13.00" font-weight="bold" text-anchor="start" textLength="65.5" lengthAdjust="spacingAndGlyphs">increasing</text>
<text x="249.50" y="447.60" font-size="11.90" font-weight="normal" text-anchor="start" textLength="262.0" lengthAdjust="spacingAndGlyphs">everywhere in the reservoir with time,except at</text>
<text x="249.50" y="464.60" font-size="11.90" font-weight="normal" text-anchor="start" textLength="272.0" lengthAdjust="spacingAndGlyphs">well location, x = 0 where it is held constant at +1.</text>
<line x1="59.0" y1="669.9" x2="78.6" y2="669.9" stroke="#4472C4" stroke-width="1.7"/>
<text x="79.80" y="672.80" font-size="10.40" font-weight="bold" text-anchor="start" letter-spacing="0.15">t=0.00001</text>
<line x1="131.8" y1="669.9" x2="151.4" y2="669.9" stroke="#ED7D31" stroke-width="1.7"/>
<text x="152.60" y="672.80" font-size="10.40" font-weight="bold" text-anchor="start" letter-spacing="0.15">t=0.1</text>
<line x1="204.5" y1="669.9" x2="224.1" y2="669.9" stroke="#A5A5A5" stroke-width="1.7"/>
<text x="225.30" y="672.80" font-size="10.40" font-weight="bold" text-anchor="start" letter-spacing="0.15">t=0.2</text>
<line x1="276.2" y1="669.9" x2="295.8" y2="669.9" stroke="#FFC000" stroke-width="1.7"/>
<text x="297.00" y="672.80" font-size="10.40" font-weight="bold" text-anchor="start" letter-spacing="0.15">t=0.4</text>
<line x1="348.2" y1="669.9" x2="367.8" y2="669.9" stroke="#5B9BD5" stroke-width="1.7"/>
<text x="369.00" y="672.80" font-size="10.40" font-weight="bold" text-anchor="start" letter-spacing="0.15">t=0.5</text>
<line x1="420.2" y1="669.9" x2="439.8" y2="669.9" stroke="#70AD47" stroke-width="1.7"/>
<text x="441.00" y="672.80" font-size="10.40" font-weight="bold" text-anchor="start" letter-spacing="0.15">t=1</text>
<line x1="59.0" y1="682.8" x2="78.6" y2="682.8" stroke="#264478" stroke-width="1.7"/>
<text x="79.80" y="685.70" font-size="10.40" font-weight="bold" text-anchor="start" letter-spacing="0.15">t=1.5</text>
<line x1="131.8" y1="682.8" x2="151.4" y2="682.8" stroke="#9E480E" stroke-width="1.7"/>
<text x="152.60" y="685.70" font-size="10.40" font-weight="bold" text-anchor="start" letter-spacing="0.15">t=2</text>
<line x1="204.5" y1="682.8" x2="224.1" y2="682.8" stroke="#636363" stroke-width="1.7"/>
<text x="225.30" y="685.70" font-size="10.40" font-weight="bold" text-anchor="start" letter-spacing="0.15">t=2.5</text>
<line x1="276.2" y1="682.8" x2="295.8" y2="682.8" stroke="#997300" stroke-width="1.7"/>
<text x="297.00" y="685.70" font-size="10.40" font-weight="bold" text-anchor="start" letter-spacing="0.15">t=3</text>
<line x1="348.2" y1="682.8" x2="367.8" y2="682.8" stroke="#255E91" stroke-width="1.7"/>
<text x="369.00" y="685.70" font-size="10.40" font-weight="bold" text-anchor="start" letter-spacing="0.15">t=3.5</text>
<line x1="420.2" y1="682.8" x2="439.8" y2="682.8" stroke="#43682B" stroke-width="1.7"/>
<text x="441.00" y="685.70" font-size="10.40" font-weight="bold" text-anchor="start" letter-spacing="0.15">t=4</text>
<line x1="59.0" y1="695.6" x2="78.6" y2="695.6" stroke="#698ED0" stroke-width="1.7"/>
<text x="79.80" y="698.50" font-size="10.40" font-weight="bold" text-anchor="start" letter-spacing="0.15">t=1.5</text>
<line x1="131.8" y1="695.6" x2="151.4" y2="695.6" stroke="#F1975A" stroke-width="1.7"/>
<text x="152.60" y="698.50" font-size="10.40" font-weight="bold" text-anchor="start" letter-spacing="0.15">t=5</text>
<line x1="204.5" y1="695.6" x2="224.1" y2="695.6" stroke="#B7B7B7" stroke-width="1.7"/>
<text x="225.30" y="698.50" font-size="10.40" font-weight="bold" text-anchor="start" letter-spacing="0.15">t=5.5</text>
<line x1="276.2" y1="695.6" x2="295.8" y2="695.6" stroke="#FFCD33" stroke-width="1.7"/>
<text x="297.00" y="698.50" font-size="10.40" font-weight="bold" text-anchor="start" letter-spacing="0.15">t=6</text>
<line x1="348.2" y1="695.6" x2="367.8" y2="695.6" stroke="#7CAFDD" stroke-width="1.7"/>
<text x="369.00" y="698.50" font-size="10.40" font-weight="bold" text-anchor="start" letter-spacing="0.15">t=6.5</text>
<line x1="420.2" y1="695.6" x2="439.8" y2="695.6" stroke="#8CC168" stroke-width="1.7"/>
<text x="441.00" y="698.50" font-size="10.40" font-weight="bold" text-anchor="start" letter-spacing="0.15">t=7</text>
<line x1="59.0" y1="708.7" x2="78.6" y2="708.7" stroke="#335AA1" stroke-width="1.7"/>
<text x="79.80" y="711.60" font-size="10.40" font-weight="bold" text-anchor="start" letter-spacing="0.15">t=7.5</text>
<line x1="131.8" y1="708.7" x2="151.4" y2="708.7" stroke="#D26012" stroke-width="1.7"/>
<text x="152.60" y="711.60" font-size="10.40" font-weight="bold" text-anchor="start" letter-spacing="0.15">t=8</text>
<line x1="204.5" y1="708.7" x2="224.1" y2="708.7" stroke="#848484" stroke-width="1.7"/>
<text x="225.30" y="711.60" font-size="10.40" font-weight="bold" text-anchor="start" letter-spacing="0.15">t=8.5</text>
<line x1="276.2" y1="708.7" x2="295.8" y2="708.7" stroke="#CC9A00" stroke-width="1.7"/>
<text x="297.00" y="711.60" font-size="10.40" font-weight="bold" text-anchor="start" letter-spacing="0.15">t=9</text>
<line x1="348.2" y1="708.7" x2="367.8" y2="708.7" stroke="#327DC2" stroke-width="1.7"/>
<text x="369.00" y="711.60" font-size="10.40" font-weight="bold" text-anchor="start" letter-spacing="0.15">t=9.5</text>
<line x1="420.2" y1="708.7" x2="439.8" y2="708.7" stroke="#5A8A39" stroke-width="1.7"/>
<text x="441.00" y="711.60" font-size="10.40" font-weight="bold" text-anchor="start" letter-spacing="0.15">t=10</text>
</svg>
</body></html>
